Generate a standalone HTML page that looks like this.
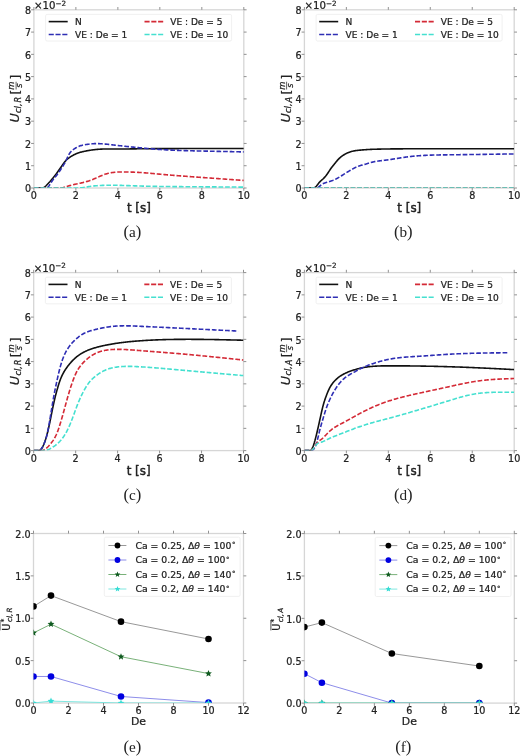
<!DOCTYPE html>
<html><head><meta charset="utf-8"><title>Figure</title>
<style>html,body{margin:0;padding:0;background:#fff;}body{width:520px;height:756px;overflow:hidden;}svg{display:block;}text{stroke:#222;stroke-width:0.24px;}text.cap{stroke:none;}text.ax{stroke-width:0.42px;}</style>
</head><body>
<svg width="520" height="756" viewBox="0 0 520 756">
<rect width="520" height="756" fill="#ffffff"/>
<defs>
<clipPath id="cpa"><rect x="33.9" y="9.8" width="209.90" height="178.20"/></clipPath>
<clipPath id="cpb"><rect x="304.4" y="9.8" width="209.80" height="178.20"/></clipPath>
<clipPath id="cpc"><rect x="33.7" y="272.6" width="209.80" height="178.00"/></clipPath>
<clipPath id="cpd"><rect x="304.4" y="272.6" width="209.80" height="178.00"/></clipPath>
<clipPath id="cpe"><rect x="33.5" y="533.5" width="210.00" height="169.50"/></clipPath>
<clipPath id="cpf"><rect x="304.4" y="533.6" width="209.90" height="169.50"/></clipPath>
</defs>
<rect x="33.9" y="9.8" width="209.90" height="178.20" fill="none" stroke="#d6d6d6" stroke-width="1.3"/>
<path d="M33.90,188.00v2.8M33.90,9.80v-2.8M75.88,188.00v2.8M75.88,9.80v-2.8M117.86,188.00v2.8M117.86,9.80v-2.8M159.84,188.00v2.8M159.84,9.80v-2.8M201.82,188.00v2.8M201.82,9.80v-2.8M243.80,188.00v2.8M243.80,9.80v-2.8M33.90,188.00h-2.8M243.80,188.00h2.8M33.90,165.72h-2.8M243.80,165.72h2.8M33.90,143.45h-2.8M243.80,143.45h2.8M33.90,121.18h-2.8M243.80,121.18h2.8M33.90,98.90h-2.8M243.80,98.90h2.8M33.90,76.62h-2.8M243.80,76.62h2.8M33.90,54.35h-2.8M243.80,54.35h2.8M33.90,32.08h-2.8M243.80,32.08h2.8M33.90,9.80h-2.8M243.80,9.80h2.8" stroke="#858585" stroke-width="0.9" fill="none"/>
<g font-family="'DejaVu Sans', 'Liberation Sans', sans-serif" font-size="9.6" fill="#222222">
<text x="33.90" y="199.30" text-anchor="middle">0</text>
<text x="75.88" y="199.30" text-anchor="middle">2</text>
<text x="117.86" y="199.30" text-anchor="middle">4</text>
<text x="159.84" y="199.30" text-anchor="middle">6</text>
<text x="201.82" y="199.30" text-anchor="middle">8</text>
<text x="243.80" y="199.30" text-anchor="middle">10</text>
<text x="31.00" y="192.20" text-anchor="end">0</text>
<text x="31.00" y="169.92" text-anchor="end">1</text>
<text x="31.00" y="147.65" text-anchor="end">2</text>
<text x="31.00" y="125.38" text-anchor="end">3</text>
<text x="31.00" y="103.10" text-anchor="end">4</text>
<text x="31.00" y="80.83" text-anchor="end">5</text>
<text x="31.00" y="58.55" text-anchor="end">6</text>
<text x="31.00" y="36.28" text-anchor="end">7</text>
<text x="31.00" y="14.00" text-anchor="end">8</text>
</g>
<g clip-path="url(#cpa)" fill="none" stroke-linejoin="round">
<polyline points="33.90,188.00 34.60,188.00 35.30,188.00 36.01,188.00 36.71,188.00 37.41,188.00 38.11,188.00 38.81,188.00 39.52,188.00 40.22,188.00 40.92,188.00 41.62,188.00 42.32,188.00 43.03,187.89 43.73,187.60 44.43,187.17 45.13,186.62 45.83,185.98 46.54,185.28 47.24,184.56 47.94,183.82 48.64,183.05 49.34,182.26 50.05,181.47 50.75,180.65 51.45,179.83 52.15,179.00 52.85,178.16 53.56,177.30 54.26,176.43 54.96,175.54 55.66,174.63 56.36,173.70 57.07,172.75 57.77,171.77 58.47,170.77 59.17,169.75 59.87,168.73 60.58,167.70 61.28,166.68 61.98,165.66 62.68,164.65 63.38,163.66 64.09,162.70 64.79,161.80 65.49,160.95 66.19,160.19 66.89,159.51 67.60,158.90 68.30,158.33 69.00,157.80 69.70,157.31 70.40,156.84 71.11,156.39 71.81,155.97 72.51,155.57 73.21,155.19 73.91,154.83 74.62,154.49 75.32,154.16 76.02,153.85 76.72,153.55 77.42,153.27 78.13,153.01 78.83,152.76 79.53,152.53 80.23,152.31 80.93,152.12 81.64,151.93 82.34,151.76 83.04,151.61 83.74,151.46 84.44,151.31 85.15,151.18 85.85,151.04 86.55,150.91 87.25,150.78 87.95,150.65 88.66,150.53 89.36,150.40 90.06,150.29 90.76,150.17 91.46,150.06 92.17,149.95 92.87,149.85 93.57,149.76 94.27,149.67 94.97,149.59 95.68,149.51 96.38,149.45 97.08,149.38 97.78,149.33 98.48,149.27 99.19,149.23 99.89,149.19 100.59,149.15 101.29,149.12 101.99,149.09 102.70,149.07 103.40,149.04 104.10,149.03 104.80,149.01 105.50,149.00 106.21,148.99 106.91,148.99 107.61,148.99 108.31,148.98 109.01,148.98 109.72,148.98 110.42,148.99 111.12,148.99 111.82,149.00 112.52,149.00 113.23,149.00 113.93,149.01 114.63,149.01 115.33,149.02 116.03,149.02 116.74,149.02 117.44,149.02 118.14,149.02 118.84,149.02 119.54,149.02 120.25,149.02 120.95,149.01 121.65,149.01 122.35,149.01 123.05,149.00 123.76,148.99 124.46,148.99 125.16,148.98 125.86,148.97 126.56,148.97 127.27,148.96 127.97,148.95 128.67,148.94 129.37,148.93 130.07,148.92 130.78,148.91 131.48,148.90 132.18,148.89 132.88,148.88 133.58,148.87 134.29,148.86 134.99,148.85 135.69,148.84 136.39,148.83 137.09,148.82 137.80,148.81 138.50,148.80 139.20,148.79 139.90,148.78 140.61,148.77 141.31,148.77 142.01,148.76 142.71,148.75 143.41,148.74 144.12,148.73 144.82,148.73 145.52,148.72 146.22,148.71 146.92,148.71 147.63,148.70 148.33,148.69 149.03,148.69 149.73,148.68 150.43,148.68 151.14,148.67 151.84,148.67 152.54,148.66 153.24,148.66 153.94,148.65 154.65,148.65 155.35,148.64 156.05,148.64 156.75,148.63 157.45,148.63 158.16,148.63 158.86,148.62 159.56,148.62 160.26,148.62 160.96,148.61 161.67,148.61 162.37,148.61 163.07,148.61 163.77,148.60 164.47,148.60 165.18,148.60 165.88,148.60 166.58,148.60 167.28,148.59 167.98,148.59 168.69,148.59 169.39,148.59 170.09,148.59 170.79,148.59 171.49,148.58 172.20,148.58 172.90,148.58 173.60,148.58 174.30,148.58 175.00,148.58 175.71,148.58 176.41,148.58 177.11,148.58 177.81,148.58 178.51,148.58 179.22,148.57 179.92,148.57 180.62,148.57 181.32,148.57 182.02,148.57 182.73,148.57 183.43,148.57 184.13,148.57 184.83,148.57 185.53,148.57 186.24,148.57 186.94,148.57 187.64,148.57 188.34,148.57 189.04,148.57 189.75,148.57 190.45,148.57 191.15,148.57 191.85,148.57 192.55,148.57 193.26,148.57 193.96,148.57 194.66,148.56 195.36,148.56 196.06,148.56 196.77,148.56 197.47,148.56 198.17,148.56 198.87,148.56 199.57,148.56 200.28,148.56 200.98,148.56 201.68,148.56 202.38,148.56 203.08,148.56 203.79,148.56 204.49,148.56 205.19,148.56 205.89,148.56 206.59,148.56 207.30,148.56 208.00,148.56 208.70,148.56 209.40,148.56 210.10,148.56 210.81,148.56 211.51,148.56 212.21,148.56 212.91,148.56 213.61,148.56 214.32,148.56 215.02,148.56 215.72,148.56 216.42,148.56 217.12,148.56 217.83,148.56 218.53,148.56 219.23,148.56 219.93,148.56 220.63,148.56 221.34,148.56 222.04,148.56 222.74,148.56 223.44,148.57 224.14,148.57 224.85,148.57 225.55,148.57 226.25,148.57 226.95,148.57 227.65,148.57 228.36,148.57 229.06,148.57 229.76,148.57 230.46,148.57 231.16,148.57 231.87,148.57 232.57,148.57 233.27,148.57 233.97,148.57 234.67,148.57 235.38,148.57 236.08,148.57 236.78,148.57 237.48,148.57 238.18,148.57 238.89,148.57 239.59,148.57 240.29,148.57 240.99,148.57 241.69,148.57 242.40,148.57 243.10,148.57 243.80,148.57" stroke="#111111" stroke-width="1.6"/>
<polyline points="33.90,188.00 34.60,188.00 35.30,188.00 36.01,188.00 36.71,188.00 37.41,188.00 38.11,188.00 38.81,188.00 39.52,188.00 40.22,188.00 40.92,188.00 41.62,188.00 42.32,188.00 43.03,188.00 43.73,188.00 44.43,188.00 45.13,188.00 45.83,188.00 46.54,188.00 47.24,187.78 47.94,187.23 48.64,186.41 49.34,185.41 50.05,184.29 50.75,183.13 51.45,182.01 52.15,180.97 52.85,180.00 53.56,179.08 54.26,178.21 54.96,177.36 55.66,176.51 56.36,175.65 57.07,174.76 57.77,173.83 58.47,172.86 59.17,171.85 59.87,170.81 60.58,169.75 61.28,168.67 61.98,167.57 62.68,166.46 63.38,165.34 64.09,164.19 64.79,162.98 65.49,161.67 66.19,160.24 66.89,158.71 67.60,157.17 68.30,155.71 69.00,154.41 69.70,153.28 70.40,152.32 71.11,151.49 71.81,150.77 72.51,150.15 73.21,149.61 73.91,149.12 74.62,148.66 75.32,148.23 76.02,147.81 76.72,147.42 77.42,147.05 78.13,146.71 78.83,146.39 79.53,146.10 80.23,145.85 80.93,145.62 81.64,145.41 82.34,145.24 83.04,145.08 83.74,144.94 84.44,144.81 85.15,144.69 85.85,144.58 86.55,144.47 87.25,144.37 87.95,144.27 88.66,144.18 89.36,144.09 90.06,144.01 90.76,143.93 91.46,143.86 92.17,143.80 92.87,143.75 93.57,143.70 94.27,143.67 94.97,143.64 95.68,143.62 96.38,143.62 97.08,143.62 97.78,143.63 98.48,143.64 99.19,143.66 99.89,143.69 100.59,143.73 101.29,143.77 101.99,143.81 102.70,143.86 103.40,143.91 104.10,143.97 104.80,144.03 105.50,144.09 106.21,144.16 106.91,144.23 107.61,144.30 108.31,144.38 109.01,144.45 109.72,144.53 110.42,144.61 111.12,144.69 111.82,144.77 112.52,144.85 113.23,144.93 113.93,145.02 114.63,145.10 115.33,145.18 116.03,145.26 116.74,145.35 117.44,145.43 118.14,145.51 118.84,145.59 119.54,145.67 120.25,145.75 120.95,145.83 121.65,145.90 122.35,145.98 123.05,146.06 123.76,146.13 124.46,146.21 125.16,146.29 125.86,146.36 126.56,146.44 127.27,146.51 127.97,146.59 128.67,146.66 129.37,146.73 130.07,146.80 130.78,146.88 131.48,146.95 132.18,147.02 132.88,147.09 133.58,147.16 134.29,147.23 134.99,147.30 135.69,147.37 136.39,147.44 137.09,147.51 137.80,147.58 138.50,147.65 139.20,147.72 139.90,147.78 140.61,147.85 141.31,147.92 142.01,147.98 142.71,148.05 143.41,148.12 144.12,148.18 144.82,148.25 145.52,148.31 146.22,148.37 146.92,148.44 147.63,148.50 148.33,148.56 149.03,148.62 149.73,148.68 150.43,148.74 151.14,148.80 151.84,148.86 152.54,148.92 153.24,148.97 153.94,149.03 154.65,149.09 155.35,149.14 156.05,149.19 156.75,149.25 157.45,149.30 158.16,149.35 158.86,149.40 159.56,149.45 160.26,149.49 160.96,149.54 161.67,149.58 162.37,149.63 163.07,149.67 163.77,149.71 164.47,149.75 165.18,149.80 165.88,149.83 166.58,149.87 167.28,149.91 167.98,149.95 168.69,149.98 169.39,150.02 170.09,150.05 170.79,150.09 171.49,150.12 172.20,150.15 172.90,150.18 173.60,150.21 174.30,150.24 175.00,150.27 175.71,150.30 176.41,150.33 177.11,150.35 177.81,150.38 178.51,150.40 179.22,150.43 179.92,150.45 180.62,150.48 181.32,150.50 182.02,150.52 182.73,150.55 183.43,150.57 184.13,150.59 184.83,150.61 185.53,150.63 186.24,150.65 186.94,150.67 187.64,150.69 188.34,150.71 189.04,150.73 189.75,150.75 190.45,150.76 191.15,150.78 191.85,150.80 192.55,150.82 193.26,150.83 193.96,150.85 194.66,150.86 195.36,150.88 196.06,150.90 196.77,150.91 197.47,150.93 198.17,150.94 198.87,150.96 199.57,150.97 200.28,150.99 200.98,151.01 201.68,151.02 202.38,151.04 203.08,151.05 203.79,151.07 204.49,151.08 205.19,151.10 205.89,151.11 206.59,151.13 207.30,151.14 208.00,151.16 208.70,151.17 209.40,151.19 210.10,151.20 210.81,151.22 211.51,151.23 212.21,151.25 212.91,151.26 213.61,151.28 214.32,151.29 215.02,151.31 215.72,151.32 216.42,151.34 217.12,151.35 217.83,151.37 218.53,151.38 219.23,151.40 219.93,151.41 220.63,151.43 221.34,151.44 222.04,151.46 222.74,151.47 223.44,151.49 224.14,151.50 224.85,151.52 225.55,151.53 226.25,151.54 226.95,151.56 227.65,151.57 228.36,151.59 229.06,151.60 229.76,151.62 230.46,151.63 231.16,151.65 231.87,151.66 232.57,151.68 233.27,151.69 233.97,151.71 234.67,151.72 235.38,151.74 236.08,151.75 236.78,151.77 237.48,151.78 238.18,151.80 238.89,151.81 239.59,151.83 240.29,151.84 240.99,151.86 241.69,151.87 242.40,151.88 243.10,151.90 243.80,151.91" stroke="#2e2eb4" stroke-width="1.6" stroke-dasharray="4.7,1.9"/>
<polyline points="33.90,188.00 34.60,188.00 35.30,188.00 36.01,188.00 36.71,188.00 37.41,188.00 38.11,188.00 38.81,188.00 39.52,188.00 40.22,188.00 40.92,188.00 41.62,188.00 42.32,188.00 43.03,188.00 43.73,188.00 44.43,188.00 45.13,188.00 45.83,188.00 46.54,188.00 47.24,188.00 47.94,188.00 48.64,188.00 49.34,188.00 50.05,188.00 50.75,188.00 51.45,188.00 52.15,188.00 52.85,188.00 53.56,188.00 54.26,188.00 54.96,188.00 55.66,188.00 56.36,188.00 57.07,188.00 57.77,188.00 58.47,188.00 59.17,188.00 59.87,188.00 60.58,187.99 61.28,187.92 61.98,187.81 62.68,187.66 63.38,187.48 64.09,187.28 64.79,187.07 65.49,186.85 66.19,186.64 66.89,186.43 67.60,186.22 68.30,186.02 69.00,185.82 69.70,185.63 70.40,185.44 71.11,185.25 71.81,185.07 72.51,184.89 73.21,184.72 73.91,184.55 74.62,184.39 75.32,184.23 76.02,184.07 76.72,183.92 77.42,183.77 78.13,183.62 78.83,183.47 79.53,183.31 80.23,183.16 80.93,183.01 81.64,182.85 82.34,182.69 83.04,182.52 83.74,182.35 84.44,182.17 85.15,181.99 85.85,181.79 86.55,181.59 87.25,181.38 87.95,181.16 88.66,180.93 89.36,180.70 90.06,180.45 90.76,180.20 91.46,179.94 92.17,179.67 92.87,179.39 93.57,179.11 94.27,178.81 94.97,178.51 95.68,178.20 96.38,177.89 97.08,177.58 97.78,177.26 98.48,176.95 99.19,176.63 99.89,176.32 100.59,176.01 101.29,175.71 101.99,175.42 102.70,175.13 103.40,174.86 104.10,174.60 104.80,174.35 105.50,174.11 106.21,173.89 106.91,173.69 107.61,173.50 108.31,173.32 109.01,173.16 109.72,173.01 110.42,172.88 111.12,172.75 111.82,172.64 112.52,172.54 113.23,172.44 113.93,172.36 114.63,172.29 115.33,172.22 116.03,172.16 116.74,172.11 117.44,172.07 118.14,172.03 118.84,172.01 119.54,171.98 120.25,171.96 120.95,171.95 121.65,171.94 122.35,171.93 123.05,171.93 123.76,171.94 124.46,171.94 125.16,171.95 125.86,171.96 126.56,171.97 127.27,171.98 127.97,171.99 128.67,172.01 129.37,172.02 130.07,172.04 130.78,172.06 131.48,172.08 132.18,172.10 132.88,172.13 133.58,172.15 134.29,172.18 134.99,172.21 135.69,172.24 136.39,172.28 137.09,172.31 137.80,172.35 138.50,172.39 139.20,172.43 139.90,172.47 140.61,172.52 141.31,172.56 142.01,172.61 142.71,172.67 143.41,172.72 144.12,172.77 144.82,172.83 145.52,172.88 146.22,172.94 146.92,173.00 147.63,173.06 148.33,173.12 149.03,173.19 149.73,173.25 150.43,173.31 151.14,173.38 151.84,173.44 152.54,173.51 153.24,173.57 153.94,173.64 154.65,173.70 155.35,173.77 156.05,173.84 156.75,173.90 157.45,173.97 158.16,174.03 158.86,174.10 159.56,174.16 160.26,174.23 160.96,174.29 161.67,174.35 162.37,174.42 163.07,174.48 163.77,174.54 164.47,174.60 165.18,174.66 165.88,174.72 166.58,174.78 167.28,174.84 167.98,174.90 168.69,174.95 169.39,175.01 170.09,175.07 170.79,175.12 171.49,175.18 172.20,175.24 172.90,175.29 173.60,175.35 174.30,175.40 175.00,175.46 175.71,175.51 176.41,175.57 177.11,175.62 177.81,175.68 178.51,175.73 179.22,175.79 179.92,175.84 180.62,175.89 181.32,175.95 182.02,176.00 182.73,176.05 183.43,176.11 184.13,176.16 184.83,176.21 185.53,176.27 186.24,176.32 186.94,176.37 187.64,176.43 188.34,176.48 189.04,176.53 189.75,176.58 190.45,176.64 191.15,176.69 191.85,176.74 192.55,176.79 193.26,176.84 193.96,176.90 194.66,176.95 195.36,177.00 196.06,177.05 196.77,177.10 197.47,177.15 198.17,177.21 198.87,177.26 199.57,177.31 200.28,177.36 200.98,177.41 201.68,177.46 202.38,177.51 203.08,177.56 203.79,177.61 204.49,177.67 205.19,177.72 205.89,177.77 206.59,177.82 207.30,177.87 208.00,177.92 208.70,177.97 209.40,178.02 210.10,178.07 210.81,178.12 211.51,178.17 212.21,178.22 212.91,178.27 213.61,178.32 214.32,178.37 215.02,178.42 215.72,178.47 216.42,178.52 217.12,178.57 217.83,178.62 218.53,178.67 219.23,178.71 219.93,178.76 220.63,178.81 221.34,178.86 222.04,178.91 222.74,178.96 223.44,179.01 224.14,179.06 224.85,179.11 225.55,179.16 226.25,179.21 226.95,179.26 227.65,179.31 228.36,179.35 229.06,179.40 229.76,179.45 230.46,179.50 231.16,179.55 231.87,179.60 232.57,179.65 233.27,179.70 233.97,179.74 234.67,179.79 235.38,179.84 236.08,179.89 236.78,179.94 237.48,179.99 238.18,180.04 238.89,180.09 239.59,180.13 240.29,180.18 240.99,180.23 241.69,180.28 242.40,180.33 243.10,180.38 243.80,180.43" stroke="#d42a36" stroke-width="1.6" stroke-dasharray="4.7,1.9"/>
<polyline points="33.90,188.00 34.60,188.00 35.30,188.00 36.01,188.00 36.71,188.00 37.41,188.00 38.11,188.00 38.81,188.00 39.52,188.00 40.22,188.00 40.92,188.00 41.62,188.00 42.32,188.00 43.03,188.00 43.73,188.00 44.43,188.00 45.13,188.00 45.83,188.00 46.54,188.00 47.24,188.00 47.94,188.00 48.64,188.00 49.34,188.00 50.05,188.00 50.75,188.00 51.45,188.00 52.15,188.00 52.85,188.00 53.56,188.00 54.26,188.00 54.96,188.00 55.66,188.00 56.36,188.00 57.07,188.00 57.77,188.00 58.47,188.00 59.17,188.00 59.87,188.00 60.58,188.00 61.28,188.00 61.98,188.00 62.68,188.00 63.38,188.00 64.09,188.00 64.79,188.00 65.49,188.00 66.19,188.00 66.89,188.00 67.60,188.00 68.30,188.00 69.00,188.00 69.70,188.00 70.40,188.00 71.11,188.00 71.81,188.00 72.51,188.00 73.21,188.00 73.91,188.00 74.62,188.00 75.32,188.00 76.02,188.00 76.72,188.00 77.42,188.00 78.13,188.00 78.83,187.99 79.53,187.95 80.23,187.90 80.93,187.84 81.64,187.76 82.34,187.67 83.04,187.57 83.74,187.46 84.44,187.35 85.15,187.23 85.85,187.11 86.55,186.99 87.25,186.87 87.95,186.75 88.66,186.63 89.36,186.53 90.06,186.42 90.76,186.33 91.46,186.24 92.17,186.15 92.87,186.07 93.57,185.99 94.27,185.92 94.97,185.85 95.68,185.79 96.38,185.73 97.08,185.68 97.78,185.63 98.48,185.58 99.19,185.54 99.89,185.50 100.59,185.46 101.29,185.43 101.99,185.39 102.70,185.37 103.40,185.34 104.10,185.32 104.80,185.30 105.50,185.28 106.21,185.27 106.91,185.26 107.61,185.25 108.31,185.24 109.01,185.24 109.72,185.24 110.42,185.23 111.12,185.24 111.82,185.24 112.52,185.24 113.23,185.25 113.93,185.26 114.63,185.27 115.33,185.28 116.03,185.29 116.74,185.30 117.44,185.32 118.14,185.33 118.84,185.35 119.54,185.37 120.25,185.38 120.95,185.40 121.65,185.42 122.35,185.44 123.05,185.46 123.76,185.49 124.46,185.51 125.16,185.53 125.86,185.55 126.56,185.58 127.27,185.60 127.97,185.62 128.67,185.65 129.37,185.67 130.07,185.70 130.78,185.72 131.48,185.75 132.18,185.77 132.88,185.80 133.58,185.82 134.29,185.84 134.99,185.87 135.69,185.89 136.39,185.92 137.09,185.94 137.80,185.96 138.50,185.98 139.20,186.01 139.90,186.03 140.61,186.05 141.31,186.07 142.01,186.09 142.71,186.11 143.41,186.13 144.12,186.14 144.82,186.16 145.52,186.18 146.22,186.20 146.92,186.21 147.63,186.23 148.33,186.25 149.03,186.26 149.73,186.28 150.43,186.29 151.14,186.30 151.84,186.32 152.54,186.33 153.24,186.34 153.94,186.36 154.65,186.37 155.35,186.38 156.05,186.39 156.75,186.40 157.45,186.42 158.16,186.43 158.86,186.44 159.56,186.45 160.26,186.46 160.96,186.47 161.67,186.48 162.37,186.49 163.07,186.49 163.77,186.50 164.47,186.51 165.18,186.52 165.88,186.53 166.58,186.54 167.28,186.54 167.98,186.55 168.69,186.56 169.39,186.56 170.09,186.57 170.79,186.58 171.49,186.58 172.20,186.59 172.90,186.60 173.60,186.60 174.30,186.61 175.00,186.62 175.71,186.62 176.41,186.63 177.11,186.63 177.81,186.64 178.51,186.65 179.22,186.65 179.92,186.66 180.62,186.66 181.32,186.67 182.02,186.67 182.73,186.68 183.43,186.68 184.13,186.69 184.83,186.69 185.53,186.70 186.24,186.71 186.94,186.71 187.64,186.72 188.34,186.72 189.04,186.73 189.75,186.73 190.45,186.74 191.15,186.74 191.85,186.75 192.55,186.75 193.26,186.76 193.96,186.76 194.66,186.77 195.36,186.77 196.06,186.78 196.77,186.78 197.47,186.79 198.17,186.80 198.87,186.80 199.57,186.81 200.28,186.81 200.98,186.82 201.68,186.82 202.38,186.83 203.08,186.83 203.79,186.84 204.49,186.84 205.19,186.85 205.89,186.85 206.59,186.86 207.30,186.86 208.00,186.87 208.70,186.87 209.40,186.88 210.10,186.88 210.81,186.89 211.51,186.89 212.21,186.90 212.91,186.90 213.61,186.91 214.32,186.91 215.02,186.91 215.72,186.92 216.42,186.92 217.12,186.93 217.83,186.93 218.53,186.94 219.23,186.94 219.93,186.95 220.63,186.95 221.34,186.96 222.04,186.96 222.74,186.97 223.44,186.97 224.14,186.98 224.85,186.98 225.55,186.99 226.25,186.99 226.95,187.00 227.65,187.00 228.36,187.01 229.06,187.01 229.76,187.02 230.46,187.02 231.16,187.02 231.87,187.03 232.57,187.03 233.27,187.04 233.97,187.04 234.67,187.05 235.38,187.05 236.08,187.06 236.78,187.06 237.48,187.07 238.18,187.07 238.89,187.08 239.59,187.08 240.29,187.09 240.99,187.09 241.69,187.09 242.40,187.10 243.10,187.10 243.80,187.11" stroke="#45e0d0" stroke-width="1.6" stroke-dasharray="4.7,1.9"/>
</g>
<text x="34.00" y="9.40" font-family="'DejaVu Sans', 'Liberation Sans', sans-serif" font-size="10.2" fill="#222222">×10<tspan font-size="7.2" dy="-3.9">−2</tspan></text>
<rect x="45.60" y="14.40" width="186" height="26.6" rx="1.5" fill="#ffffff" fill-opacity="0.8" stroke="#ececec" stroke-width="0.8"/>
<line x1="48.70" y1="21.60" x2="67.70" y2="21.60" stroke="#111111" stroke-width="1.6"/>
<text x="75.00" y="25.20" font-family="'DejaVu Sans', 'Liberation Sans', sans-serif" font-size="9.05" fill="#222222">N</text>
<line x1="48.70" y1="34.50" x2="67.70" y2="34.50" stroke="#2e2eb4" stroke-width="1.6" stroke-dasharray="5.1,1.7"/>
<text x="75.00" y="38.10" font-family="'DejaVu Sans', 'Liberation Sans', sans-serif" font-size="9.05" fill="#222222">VE : De = 1</text>
<line x1="144.50" y1="21.60" x2="163.50" y2="21.60" stroke="#d42a36" stroke-width="1.6" stroke-dasharray="5.1,1.7"/>
<text x="170.20" y="25.20" font-family="'DejaVu Sans', 'Liberation Sans', sans-serif" font-size="9.05" fill="#222222">VE : De = 5</text>
<line x1="144.50" y1="34.50" x2="163.50" y2="34.50" stroke="#45e0d0" stroke-width="1.6" stroke-dasharray="5.1,1.7"/>
<text x="170.20" y="38.10" font-family="'DejaVu Sans', 'Liberation Sans', sans-serif" font-size="9.05" fill="#222222">VE : De = 10</text>
<text class="ax" x="138.85" y="212.00" text-anchor="middle" font-family="'DejaVu Sans', 'Liberation Sans', sans-serif" font-size="11.9" fill="#222222">t [s]</text>
<g transform="translate(19.30,98.90) rotate(-90)" font-family="'DejaVu Sans', 'Liberation Sans', sans-serif" fill="#222222"><text x="-23.6" y="0" font-size="12.8" font-style="italic">U</text><text x="-14.0" y="1.5" font-size="8.2" font-style="italic">cl,</text><text x="-3.6" y="1.7" font-size="8.2" font-style="italic">R</text><text x="4.4" y="0.9" font-size="12.2">[</text><text x="13.3" y="-5.3" font-size="8.4" font-style="italic" text-anchor="middle">m</text><line x1="9.4" y1="-3.2" x2="17.2" y2="-3.2" stroke="#222222" stroke-width="0.7"/><text x="13.4" y="2.7" font-size="8.2" font-style="italic" text-anchor="middle">s</text><text x="19.4" y="0.9" font-size="12.2">]</text></g>
<rect x="304.4" y="9.8" width="209.80" height="178.20" fill="none" stroke="#d6d6d6" stroke-width="1.3"/>
<path d="M304.40,188.00v2.8M304.40,9.80v-2.8M346.36,188.00v2.8M346.36,9.80v-2.8M388.32,188.00v2.8M388.32,9.80v-2.8M430.28,188.00v2.8M430.28,9.80v-2.8M472.24,188.00v2.8M472.24,9.80v-2.8M514.20,188.00v2.8M514.20,9.80v-2.8M304.40,188.00h-2.8M514.20,188.00h2.8M304.40,165.72h-2.8M514.20,165.72h2.8M304.40,143.45h-2.8M514.20,143.45h2.8M304.40,121.18h-2.8M514.20,121.18h2.8M304.40,98.90h-2.8M514.20,98.90h2.8M304.40,76.62h-2.8M514.20,76.62h2.8M304.40,54.35h-2.8M514.20,54.35h2.8M304.40,32.08h-2.8M514.20,32.08h2.8M304.40,9.80h-2.8M514.20,9.80h2.8" stroke="#858585" stroke-width="0.9" fill="none"/>
<g font-family="'DejaVu Sans', 'Liberation Sans', sans-serif" font-size="9.6" fill="#222222">
<text x="304.40" y="199.30" text-anchor="middle">0</text>
<text x="346.36" y="199.30" text-anchor="middle">2</text>
<text x="388.32" y="199.30" text-anchor="middle">4</text>
<text x="430.28" y="199.30" text-anchor="middle">6</text>
<text x="472.24" y="199.30" text-anchor="middle">8</text>
<text x="514.20" y="199.30" text-anchor="middle">10</text>
<text x="301.50" y="192.20" text-anchor="end">0</text>
<text x="301.50" y="169.92" text-anchor="end">1</text>
<text x="301.50" y="147.65" text-anchor="end">2</text>
<text x="301.50" y="125.38" text-anchor="end">3</text>
<text x="301.50" y="103.10" text-anchor="end">4</text>
<text x="301.50" y="80.83" text-anchor="end">5</text>
<text x="301.50" y="58.55" text-anchor="end">6</text>
<text x="301.50" y="36.28" text-anchor="end">7</text>
<text x="301.50" y="14.00" text-anchor="end">8</text>
</g>
<g clip-path="url(#cpb)" fill="none" stroke-linejoin="round">
<polyline points="304.40,188.00 305.10,188.00 305.80,188.00 306.51,188.00 307.21,188.00 307.91,188.00 308.61,188.00 309.31,188.00 310.01,188.00 310.72,188.00 311.42,188.00 312.12,188.00 312.82,188.00 313.52,188.00 314.22,187.89 314.93,187.53 315.63,186.94 316.33,186.20 317.03,185.34 317.73,184.42 318.43,183.50 319.14,182.62 319.84,181.83 320.54,181.13 321.24,180.48 321.94,179.86 322.64,179.24 323.35,178.58 324.05,177.88 324.75,177.11 325.45,176.29 326.15,175.41 326.85,174.47 327.56,173.48 328.26,172.45 328.96,171.40 329.66,170.34 330.36,169.30 331.06,168.30 331.77,167.35 332.47,166.43 333.17,165.54 333.87,164.67 334.57,163.81 335.27,162.94 335.98,162.07 336.68,161.21 337.38,160.38 338.08,159.59 338.78,158.85 339.48,158.17 340.19,157.54 340.89,156.96 341.59,156.41 342.29,155.90 342.99,155.43 343.69,154.97 344.40,154.54 345.10,154.14 345.80,153.76 346.50,153.40 347.20,153.07 347.90,152.76 348.61,152.47 349.31,152.20 350.01,151.96 350.71,151.73 351.41,151.53 352.11,151.35 352.82,151.18 353.52,151.03 354.22,150.89 354.92,150.77 355.62,150.66 356.32,150.56 357.03,150.46 357.73,150.38 358.43,150.29 359.13,150.22 359.83,150.14 360.53,150.08 361.24,150.01 361.94,149.95 362.64,149.89 363.34,149.84 364.04,149.78 364.74,149.73 365.45,149.69 366.15,149.64 366.85,149.60 367.55,149.56 368.25,149.52 368.95,149.48 369.66,149.45 370.36,149.41 371.06,149.38 371.76,149.35 372.46,149.32 373.16,149.30 373.87,149.27 374.57,149.25 375.27,149.22 375.97,149.20 376.67,149.18 377.37,149.16 378.08,149.14 378.78,149.12 379.48,149.11 380.18,149.09 380.88,149.08 381.58,149.06 382.29,149.05 382.99,149.04 383.69,149.02 384.39,149.01 385.09,149.00 385.79,148.99 386.50,148.98 387.20,148.97 387.90,148.96 388.60,148.95 389.30,148.94 390.00,148.93 390.71,148.92 391.41,148.91 392.11,148.91 392.81,148.90 393.51,148.89 394.21,148.89 394.92,148.88 395.62,148.87 396.32,148.87 397.02,148.86 397.72,148.86 398.42,148.85 399.13,148.85 399.83,148.84 400.53,148.84 401.23,148.83 401.93,148.83 402.63,148.83 403.34,148.82 404.04,148.82 404.74,148.82 405.44,148.81 406.14,148.81 406.84,148.81 407.55,148.80 408.25,148.80 408.95,148.80 409.65,148.79 410.35,148.79 411.05,148.79 411.76,148.79 412.46,148.78 413.16,148.78 413.86,148.78 414.56,148.78 415.26,148.77 415.97,148.77 416.67,148.77 417.37,148.77 418.07,148.77 418.77,148.76 419.47,148.76 420.18,148.76 420.88,148.76 421.58,148.76 422.28,148.75 422.98,148.75 423.68,148.75 424.39,148.75 425.09,148.75 425.79,148.75 426.49,148.75 427.19,148.74 427.89,148.74 428.60,148.74 429.30,148.74 430.00,148.74 430.70,148.74 431.40,148.74 432.10,148.73 432.81,148.73 433.51,148.73 434.21,148.73 434.91,148.73 435.61,148.73 436.31,148.73 437.02,148.73 437.72,148.73 438.42,148.73 439.12,148.73 439.82,148.72 440.52,148.72 441.23,148.72 441.93,148.72 442.63,148.72 443.33,148.72 444.03,148.72 444.73,148.72 445.44,148.72 446.14,148.72 446.84,148.72 447.54,148.72 448.24,148.72 448.94,148.72 449.65,148.72 450.35,148.72 451.05,148.72 451.75,148.72 452.45,148.72 453.15,148.72 453.86,148.72 454.56,148.72 455.26,148.72 455.96,148.72 456.66,148.72 457.36,148.72 458.07,148.72 458.77,148.72 459.47,148.72 460.17,148.72 460.87,148.72 461.57,148.72 462.28,148.72 462.98,148.72 463.68,148.72 464.38,148.72 465.08,148.72 465.78,148.72 466.49,148.72 467.19,148.72 467.89,148.72 468.59,148.72 469.29,148.73 469.99,148.73 470.70,148.73 471.40,148.73 472.10,148.73 472.80,148.73 473.50,148.73 474.20,148.73 474.91,148.73 475.61,148.73 476.31,148.73 477.01,148.73 477.71,148.73 478.41,148.74 479.12,148.74 479.82,148.74 480.52,148.74 481.22,148.74 481.92,148.74 482.62,148.74 483.33,148.74 484.03,148.74 484.73,148.74 485.43,148.74 486.13,148.75 486.83,148.75 487.54,148.75 488.24,148.75 488.94,148.75 489.64,148.75 490.34,148.75 491.04,148.75 491.75,148.75 492.45,148.76 493.15,148.76 493.85,148.76 494.55,148.76 495.25,148.76 495.96,148.76 496.66,148.76 497.36,148.76 498.06,148.77 498.76,148.77 499.46,148.77 500.17,148.77 500.87,148.77 501.57,148.77 502.27,148.77 502.97,148.77 503.67,148.78 504.38,148.78 505.08,148.78 505.78,148.78 506.48,148.78 507.18,148.78 507.88,148.78 508.59,148.79 509.29,148.79 509.99,148.79 510.69,148.79 511.39,148.79 512.09,148.79 512.80,148.79 513.50,148.79 514.20,148.80" stroke="#111111" stroke-width="1.6"/>
<polyline points="304.40,188.00 305.10,188.00 305.80,188.00 306.51,188.00 307.21,188.00 307.91,188.00 308.61,188.00 309.31,188.00 310.01,188.00 310.72,188.00 311.42,188.00 312.12,188.00 312.82,188.00 313.52,188.00 314.22,188.00 314.93,188.00 315.63,188.00 316.33,188.00 317.03,187.95 317.73,187.68 318.43,187.25 319.14,186.69 319.84,186.07 320.54,185.43 321.24,184.84 321.94,184.32 322.64,183.88 323.35,183.51 324.05,183.19 324.75,182.92 325.45,182.68 326.15,182.47 326.85,182.27 327.56,182.07 328.26,181.87 328.96,181.66 329.66,181.45 330.36,181.23 331.06,181.00 331.77,180.76 332.47,180.51 333.17,180.24 333.87,179.95 334.57,179.65 335.27,179.32 335.98,178.98 336.68,178.61 337.38,178.23 338.08,177.83 338.78,177.43 339.48,177.01 340.19,176.58 340.89,176.15 341.59,175.71 342.29,175.27 342.99,174.82 343.69,174.38 344.40,173.94 345.10,173.50 345.80,173.06 346.50,172.62 347.20,172.19 347.90,171.76 348.61,171.33 349.31,170.90 350.01,170.48 350.71,170.06 351.41,169.65 352.11,169.24 352.82,168.85 353.52,168.46 354.22,168.09 354.92,167.73 355.62,167.38 356.32,167.06 357.03,166.75 357.73,166.46 358.43,166.19 359.13,165.95 359.83,165.72 360.53,165.50 361.24,165.30 361.94,165.11 362.64,164.92 363.34,164.73 364.04,164.55 364.74,164.36 365.45,164.17 366.15,163.97 366.85,163.76 367.55,163.55 368.25,163.34 368.95,163.12 369.66,162.91 370.36,162.70 371.06,162.50 371.76,162.31 372.46,162.12 373.16,161.95 373.87,161.79 374.57,161.64 375.27,161.51 375.97,161.39 376.67,161.27 377.37,161.17 378.08,161.07 378.78,160.97 379.48,160.89 380.18,160.80 380.88,160.72 381.58,160.64 382.29,160.57 382.99,160.49 383.69,160.41 384.39,160.32 385.09,160.24 385.79,160.15 386.50,160.05 387.20,159.96 387.90,159.86 388.60,159.76 389.30,159.66 390.00,159.56 390.71,159.45 391.41,159.34 392.11,159.24 392.81,159.13 393.51,159.02 394.21,158.91 394.92,158.79 395.62,158.68 396.32,158.57 397.02,158.46 397.72,158.34 398.42,158.23 399.13,158.12 399.83,158.01 400.53,157.90 401.23,157.79 401.93,157.68 402.63,157.57 403.34,157.47 404.04,157.37 404.74,157.26 405.44,157.16 406.14,157.07 406.84,156.97 407.55,156.88 408.25,156.79 408.95,156.70 409.65,156.62 410.35,156.54 411.05,156.46 411.76,156.38 412.46,156.31 413.16,156.24 413.86,156.17 414.56,156.10 415.26,156.04 415.97,155.98 416.67,155.92 417.37,155.86 418.07,155.81 418.77,155.75 419.47,155.70 420.18,155.65 420.88,155.61 421.58,155.56 422.28,155.52 422.98,155.48 423.68,155.44 424.39,155.40 425.09,155.37 425.79,155.33 426.49,155.30 427.19,155.27 427.89,155.24 428.60,155.21 429.30,155.19 430.00,155.16 430.70,155.14 431.40,155.12 432.10,155.10 432.81,155.07 433.51,155.06 434.21,155.04 434.91,155.02 435.61,155.00 436.31,154.99 437.02,154.97 437.72,154.96 438.42,154.95 439.12,154.94 439.82,154.92 440.52,154.91 441.23,154.90 441.93,154.89 442.63,154.88 443.33,154.87 444.03,154.86 444.73,154.86 445.44,154.85 446.14,154.84 446.84,154.83 447.54,154.82 448.24,154.82 448.94,154.81 449.65,154.80 450.35,154.79 451.05,154.78 451.75,154.78 452.45,154.77 453.15,154.76 453.86,154.75 454.56,154.74 455.26,154.73 455.96,154.73 456.66,154.72 457.36,154.71 458.07,154.70 458.77,154.69 459.47,154.68 460.17,154.67 460.87,154.67 461.57,154.66 462.28,154.65 462.98,154.64 463.68,154.63 464.38,154.62 465.08,154.61 465.78,154.60 466.49,154.59 467.19,154.59 467.89,154.58 468.59,154.57 469.29,154.56 469.99,154.55 470.70,154.54 471.40,154.53 472.10,154.52 472.80,154.51 473.50,154.50 474.20,154.49 474.91,154.48 475.61,154.47 476.31,154.46 477.01,154.45 477.71,154.44 478.41,154.44 479.12,154.43 479.82,154.42 480.52,154.41 481.22,154.40 481.92,154.39 482.62,154.38 483.33,154.37 484.03,154.36 484.73,154.35 485.43,154.34 486.13,154.33 486.83,154.32 487.54,154.31 488.24,154.30 488.94,154.29 489.64,154.28 490.34,154.27 491.04,154.26 491.75,154.25 492.45,154.24 493.15,154.23 493.85,154.22 494.55,154.21 495.25,154.20 495.96,154.19 496.66,154.18 497.36,154.17 498.06,154.16 498.76,154.15 499.46,154.14 500.17,154.13 500.87,154.12 501.57,154.11 502.27,154.09 502.97,154.08 503.67,154.07 504.38,154.06 505.08,154.05 505.78,154.04 506.48,154.03 507.18,154.02 507.88,154.01 508.59,154.00 509.29,153.99 509.99,153.98 510.69,153.97 511.39,153.96 512.09,153.95 512.80,153.94 513.50,153.93 514.20,153.92" stroke="#2e2eb4" stroke-width="1.6" stroke-dasharray="4.7,1.9"/>
<polyline points="304.40,188.00 305.10,188.00 305.80,188.00 306.51,188.00 307.21,188.00 307.91,188.00 308.61,188.00 309.31,188.00 310.01,188.00 310.72,188.00 311.42,188.00 312.12,188.00 312.82,188.00 313.52,188.00 314.22,188.00 314.93,188.00 315.63,188.00 316.33,188.00 317.03,188.00 317.73,188.00 318.43,188.00 319.14,188.00 319.84,188.00 320.54,188.00 321.24,188.00 321.94,188.00 322.64,188.00 323.35,188.00 324.05,188.00 324.75,188.00 325.45,188.00 326.15,188.00 326.85,188.00 327.56,188.00 328.26,188.00 328.96,188.00 329.66,188.00 330.36,188.00 331.06,188.00 331.77,188.00 332.47,188.00 333.17,188.00 333.87,188.00 334.57,188.00 335.27,188.00 335.98,188.00 336.68,188.00 337.38,188.00 338.08,188.00 338.78,188.00 339.48,188.00 340.19,188.00 340.89,188.00 341.59,188.00 342.29,188.00 342.99,188.00 343.69,188.00 344.40,188.00 345.10,188.00 345.80,188.00 346.50,188.00 347.20,188.00 347.90,188.00 348.61,188.00 349.31,188.00 350.01,188.00 350.71,188.00 351.41,188.00 352.11,188.00 352.82,188.00 353.52,188.00 354.22,188.00 354.92,188.00 355.62,188.00 356.32,188.00 357.03,188.00 357.73,188.00 358.43,188.00 359.13,188.00 359.83,188.00 360.53,188.00 361.24,188.00 361.94,188.00 362.64,188.00 363.34,188.00 364.04,188.00 364.74,188.00 365.45,188.00 366.15,188.00 366.85,188.00 367.55,188.00 368.25,188.00 368.95,188.00 369.66,188.00 370.36,188.00 371.06,188.00 371.76,188.00 372.46,188.00 373.16,188.00 373.87,188.00 374.57,188.00 375.27,188.00 375.97,188.00 376.67,188.00 377.37,188.00 378.08,188.00 378.78,188.00 379.48,188.00 380.18,188.00 380.88,188.00 381.58,188.00 382.29,188.00 382.99,188.00 383.69,188.00 384.39,188.00 385.09,188.00 385.79,188.00 386.50,188.00 387.20,188.00 387.90,188.00 388.60,188.00 389.30,188.00 390.00,188.00 390.71,188.00 391.41,188.00 392.11,188.00 392.81,188.00 393.51,188.00 394.21,188.00 394.92,188.00 395.62,188.00 396.32,188.00 397.02,188.00 397.72,188.00 398.42,188.00 399.13,188.00 399.83,188.00 400.53,188.00 401.23,188.00 401.93,188.00 402.63,188.00 403.34,188.00 404.04,188.00 404.74,188.00 405.44,188.00 406.14,188.00 406.84,188.00 407.55,188.00 408.25,188.00 408.95,188.00 409.65,188.00 410.35,188.00 411.05,188.00 411.76,188.00 412.46,188.00 413.16,188.00 413.86,188.00 414.56,188.00 415.26,188.00 415.97,188.00 416.67,188.00 417.37,188.00 418.07,188.00 418.77,188.00 419.47,188.00 420.18,188.00 420.88,188.00 421.58,188.00 422.28,188.00 422.98,188.00 423.68,188.00 424.39,188.00 425.09,188.00 425.79,188.00 426.49,188.00 427.19,188.00 427.89,188.00 428.60,188.00 429.30,188.00 430.00,188.00 430.70,188.00 431.40,188.00 432.10,188.00 432.81,188.00 433.51,188.00 434.21,188.00 434.91,188.00 435.61,188.00 436.31,188.00 437.02,188.00 437.72,188.00 438.42,188.00 439.12,188.00 439.82,188.00 440.52,188.00 441.23,188.00 441.93,188.00 442.63,188.00 443.33,188.00 444.03,188.00 444.73,188.00 445.44,188.00 446.14,188.00 446.84,188.00 447.54,188.00 448.24,188.00 448.94,188.00 449.65,188.00 450.35,188.00 451.05,188.00 451.75,188.00 452.45,188.00 453.15,188.00 453.86,188.00 454.56,188.00 455.26,188.00 455.96,188.00 456.66,188.00 457.36,188.00 458.07,188.00 458.77,188.00 459.47,188.00 460.17,188.00 460.87,188.00 461.57,188.00 462.28,188.00 462.98,188.00 463.68,188.00 464.38,188.00 465.08,188.00 465.78,188.00 466.49,188.00 467.19,188.00 467.89,188.00 468.59,188.00 469.29,188.00 469.99,188.00 470.70,188.00 471.40,188.00 472.10,188.00 472.80,188.00 473.50,188.00 474.20,188.00 474.91,188.00 475.61,188.00 476.31,188.00 477.01,188.00 477.71,188.00 478.41,188.00 479.12,188.00 479.82,188.00 480.52,188.00 481.22,188.00 481.92,188.00 482.62,188.00 483.33,188.00 484.03,188.00 484.73,188.00 485.43,188.00 486.13,188.00 486.83,188.00 487.54,188.00 488.24,188.00 488.94,188.00 489.64,188.00 490.34,188.00 491.04,188.00 491.75,188.00 492.45,188.00 493.15,188.00 493.85,188.00 494.55,188.00 495.25,188.00 495.96,188.00 496.66,188.00 497.36,188.00 498.06,188.00 498.76,188.00 499.46,188.00 500.17,188.00 500.87,188.00 501.57,188.00 502.27,188.00 502.97,188.00 503.67,188.00 504.38,188.00 505.08,188.00 505.78,188.00 506.48,188.00 507.18,188.00 507.88,188.00 508.59,188.00 509.29,188.00 509.99,188.00 510.69,188.00 511.39,188.00 512.09,188.00 512.80,188.00 513.50,188.00 514.20,188.00" stroke="#d42a36" stroke-width="1.6" stroke-dasharray="4.7,1.9"/>
<polyline points="304.40,188.00 305.10,188.00 305.80,188.00 306.51,188.00 307.21,188.00 307.91,188.00 308.61,188.00 309.31,188.00 310.01,188.00 310.72,188.00 311.42,188.00 312.12,188.00 312.82,188.00 313.52,188.00 314.22,188.00 314.93,188.00 315.63,188.00 316.33,188.00 317.03,188.00 317.73,188.00 318.43,188.00 319.14,188.00 319.84,188.00 320.54,188.00 321.24,188.00 321.94,188.00 322.64,188.00 323.35,188.00 324.05,188.00 324.75,188.00 325.45,188.00 326.15,188.00 326.85,188.00 327.56,188.00 328.26,188.00 328.96,188.00 329.66,188.00 330.36,188.00 331.06,188.00 331.77,188.00 332.47,188.00 333.17,188.00 333.87,188.00 334.57,188.00 335.27,188.00 335.98,188.00 336.68,188.00 337.38,188.00 338.08,188.00 338.78,188.00 339.48,188.00 340.19,188.00 340.89,188.00 341.59,188.00 342.29,188.00 342.99,188.00 343.69,188.00 344.40,188.00 345.10,188.00 345.80,188.00 346.50,188.00 347.20,188.00 347.90,188.00 348.61,188.00 349.31,188.00 350.01,188.00 350.71,188.00 351.41,188.00 352.11,188.00 352.82,188.00 353.52,188.00 354.22,188.00 354.92,188.00 355.62,188.00 356.32,188.00 357.03,188.00 357.73,188.00 358.43,188.00 359.13,188.00 359.83,188.00 360.53,188.00 361.24,188.00 361.94,188.00 362.64,188.00 363.34,188.00 364.04,188.00 364.74,188.00 365.45,188.00 366.15,188.00 366.85,188.00 367.55,188.00 368.25,188.00 368.95,188.00 369.66,188.00 370.36,188.00 371.06,188.00 371.76,188.00 372.46,188.00 373.16,188.00 373.87,188.00 374.57,188.00 375.27,188.00 375.97,188.00 376.67,188.00 377.37,188.00 378.08,188.00 378.78,188.00 379.48,188.00 380.18,188.00 380.88,188.00 381.58,188.00 382.29,188.00 382.99,188.00 383.69,188.00 384.39,188.00 385.09,188.00 385.79,188.00 386.50,188.00 387.20,188.00 387.90,188.00 388.60,188.00 389.30,188.00 390.00,188.00 390.71,188.00 391.41,188.00 392.11,188.00 392.81,188.00 393.51,188.00 394.21,188.00 394.92,188.00 395.62,188.00 396.32,188.00 397.02,188.00 397.72,188.00 398.42,188.00 399.13,188.00 399.83,188.00 400.53,188.00 401.23,188.00 401.93,188.00 402.63,188.00 403.34,188.00 404.04,188.00 404.74,188.00 405.44,188.00 406.14,188.00 406.84,188.00 407.55,188.00 408.25,188.00 408.95,188.00 409.65,188.00 410.35,188.00 411.05,188.00 411.76,188.00 412.46,188.00 413.16,188.00 413.86,188.00 414.56,188.00 415.26,188.00 415.97,188.00 416.67,188.00 417.37,188.00 418.07,188.00 418.77,188.00 419.47,188.00 420.18,188.00 420.88,188.00 421.58,188.00 422.28,188.00 422.98,188.00 423.68,188.00 424.39,188.00 425.09,188.00 425.79,188.00 426.49,188.00 427.19,188.00 427.89,188.00 428.60,188.00 429.30,188.00 430.00,188.00 430.70,188.00 431.40,188.00 432.10,188.00 432.81,188.00 433.51,188.00 434.21,188.00 434.91,188.00 435.61,188.00 436.31,188.00 437.02,188.00 437.72,188.00 438.42,188.00 439.12,188.00 439.82,188.00 440.52,188.00 441.23,188.00 441.93,188.00 442.63,188.00 443.33,188.00 444.03,188.00 444.73,188.00 445.44,188.00 446.14,188.00 446.84,188.00 447.54,188.00 448.24,188.00 448.94,188.00 449.65,188.00 450.35,188.00 451.05,188.00 451.75,188.00 452.45,188.00 453.15,188.00 453.86,188.00 454.56,188.00 455.26,188.00 455.96,188.00 456.66,188.00 457.36,188.00 458.07,188.00 458.77,188.00 459.47,188.00 460.17,188.00 460.87,188.00 461.57,188.00 462.28,188.00 462.98,188.00 463.68,188.00 464.38,188.00 465.08,188.00 465.78,188.00 466.49,188.00 467.19,188.00 467.89,188.00 468.59,188.00 469.29,188.00 469.99,188.00 470.70,188.00 471.40,188.00 472.10,188.00 472.80,188.00 473.50,188.00 474.20,188.00 474.91,188.00 475.61,188.00 476.31,188.00 477.01,188.00 477.71,188.00 478.41,188.00 479.12,188.00 479.82,188.00 480.52,188.00 481.22,188.00 481.92,188.00 482.62,188.00 483.33,188.00 484.03,188.00 484.73,188.00 485.43,188.00 486.13,188.00 486.83,188.00 487.54,188.00 488.24,188.00 488.94,188.00 489.64,188.00 490.34,188.00 491.04,188.00 491.75,188.00 492.45,188.00 493.15,188.00 493.85,188.00 494.55,188.00 495.25,188.00 495.96,188.00 496.66,188.00 497.36,188.00 498.06,188.00 498.76,188.00 499.46,188.00 500.17,188.00 500.87,188.00 501.57,188.00 502.27,188.00 502.97,188.00 503.67,188.00 504.38,188.00 505.08,188.00 505.78,188.00 506.48,188.00 507.18,188.00 507.88,188.00 508.59,188.00 509.29,188.00 509.99,188.00 510.69,188.00 511.39,188.00 512.09,188.00 512.80,188.00 513.50,188.00 514.20,188.00" stroke="#45e0d0" stroke-width="1.6" stroke-dasharray="4.7,1.9"/>
</g>
<text x="304.50" y="9.40" font-family="'DejaVu Sans', 'Liberation Sans', sans-serif" font-size="10.2" fill="#222222">×10<tspan font-size="7.2" dy="-3.9">−2</tspan></text>
<rect x="316.10" y="14.40" width="186" height="26.6" rx="1.5" fill="#ffffff" fill-opacity="0.8" stroke="#ececec" stroke-width="0.8"/>
<line x1="319.20" y1="21.60" x2="338.20" y2="21.60" stroke="#111111" stroke-width="1.6"/>
<text x="345.50" y="25.20" font-family="'DejaVu Sans', 'Liberation Sans', sans-serif" font-size="9.05" fill="#222222">N</text>
<line x1="319.20" y1="34.50" x2="338.20" y2="34.50" stroke="#2e2eb4" stroke-width="1.6" stroke-dasharray="5.1,1.7"/>
<text x="345.50" y="38.10" font-family="'DejaVu Sans', 'Liberation Sans', sans-serif" font-size="9.05" fill="#222222">VE : De = 1</text>
<line x1="415.00" y1="21.60" x2="434.00" y2="21.60" stroke="#d42a36" stroke-width="1.6" stroke-dasharray="5.1,1.7"/>
<text x="440.70" y="25.20" font-family="'DejaVu Sans', 'Liberation Sans', sans-serif" font-size="9.05" fill="#222222">VE : De = 5</text>
<line x1="415.00" y1="34.50" x2="434.00" y2="34.50" stroke="#45e0d0" stroke-width="1.6" stroke-dasharray="5.1,1.7"/>
<text x="440.70" y="38.10" font-family="'DejaVu Sans', 'Liberation Sans', sans-serif" font-size="9.05" fill="#222222">VE : De = 10</text>
<text class="ax" x="409.30" y="212.00" text-anchor="middle" font-family="'DejaVu Sans', 'Liberation Sans', sans-serif" font-size="11.9" fill="#222222">t [s]</text>
<g transform="translate(289.80,98.90) rotate(-90)" font-family="'DejaVu Sans', 'Liberation Sans', sans-serif" fill="#222222"><text x="-23.6" y="0" font-size="12.8" font-style="italic">U</text><text x="-14.0" y="1.5" font-size="8.2" font-style="italic">cl,</text><text x="-3.6" y="1.7" font-size="8.2" font-style="italic">A</text><text x="4.4" y="0.9" font-size="12.2">[</text><text x="13.3" y="-5.3" font-size="8.4" font-style="italic" text-anchor="middle">m</text><line x1="9.4" y1="-3.2" x2="17.2" y2="-3.2" stroke="#222222" stroke-width="0.7"/><text x="13.4" y="2.7" font-size="8.2" font-style="italic" text-anchor="middle">s</text><text x="19.4" y="0.9" font-size="12.2">]</text></g>
<rect x="33.7" y="272.6" width="209.80" height="178.00" fill="none" stroke="#d6d6d6" stroke-width="1.3"/>
<path d="M33.70,450.60v2.8M33.70,272.60v-2.8M75.66,450.60v2.8M75.66,272.60v-2.8M117.62,450.60v2.8M117.62,272.60v-2.8M159.58,450.60v2.8M159.58,272.60v-2.8M201.54,450.60v2.8M201.54,272.60v-2.8M243.50,450.60v2.8M243.50,272.60v-2.8M33.70,450.60h-2.8M243.50,450.60h2.8M33.70,428.35h-2.8M243.50,428.35h2.8M33.70,406.10h-2.8M243.50,406.10h2.8M33.70,383.85h-2.8M243.50,383.85h2.8M33.70,361.60h-2.8M243.50,361.60h2.8M33.70,339.35h-2.8M243.50,339.35h2.8M33.70,317.10h-2.8M243.50,317.10h2.8M33.70,294.85h-2.8M243.50,294.85h2.8M33.70,272.60h-2.8M243.50,272.60h2.8" stroke="#858585" stroke-width="0.9" fill="none"/>
<g font-family="'DejaVu Sans', 'Liberation Sans', sans-serif" font-size="9.6" fill="#222222">
<text x="33.70" y="461.90" text-anchor="middle">0</text>
<text x="75.66" y="461.90" text-anchor="middle">2</text>
<text x="117.62" y="461.90" text-anchor="middle">4</text>
<text x="159.58" y="461.90" text-anchor="middle">6</text>
<text x="201.54" y="461.90" text-anchor="middle">8</text>
<text x="243.50" y="461.90" text-anchor="middle">10</text>
<text x="30.80" y="454.80" text-anchor="end">0</text>
<text x="30.80" y="432.55" text-anchor="end">1</text>
<text x="30.80" y="410.30" text-anchor="end">2</text>
<text x="30.80" y="388.05" text-anchor="end">3</text>
<text x="30.80" y="365.80" text-anchor="end">4</text>
<text x="30.80" y="343.55" text-anchor="end">5</text>
<text x="30.80" y="321.30" text-anchor="end">6</text>
<text x="30.80" y="299.05" text-anchor="end">7</text>
<text x="30.80" y="276.80" text-anchor="end">8</text>
</g>
<g clip-path="url(#cpc)" fill="none" stroke-linejoin="round">
<polyline points="33.70,450.60 34.40,450.60 35.10,450.60 35.81,450.60 36.51,450.60 37.21,450.60 37.91,450.60 38.61,450.60 39.31,450.56 40.02,450.27 40.72,449.70 41.42,448.87 42.12,447.81 42.82,446.52 43.52,445.01 44.23,443.31 44.93,441.42 45.63,439.32 46.33,437.02 47.03,434.50 47.73,431.74 48.44,428.79 49.14,425.65 49.84,422.36 50.54,418.95 51.24,415.46 51.94,411.94 52.65,408.45 53.35,405.06 54.05,401.83 54.75,398.78 55.45,395.92 56.15,393.20 56.86,390.63 57.56,388.17 58.26,385.82 58.96,383.60 59.66,381.51 60.36,379.57 61.07,377.79 61.77,376.16 62.47,374.66 63.17,373.28 63.87,372.00 64.57,370.82 65.28,369.71 65.98,368.67 66.68,367.68 67.38,366.73 68.08,365.81 68.78,364.92 69.49,364.05 70.19,363.22 70.89,362.41 71.59,361.64 72.29,360.89 72.99,360.16 73.70,359.47 74.40,358.81 75.10,358.17 75.80,357.55 76.50,356.97 77.20,356.41 77.91,355.87 78.61,355.35 79.31,354.86 80.01,354.39 80.71,353.94 81.41,353.51 82.12,353.09 82.82,352.70 83.52,352.32 84.22,351.95 84.92,351.60 85.62,351.26 86.33,350.94 87.03,350.63 87.73,350.33 88.43,350.04 89.13,349.77 89.83,349.50 90.54,349.24 91.24,348.99 91.94,348.75 92.64,348.52 93.34,348.30 94.04,348.08 94.75,347.87 95.45,347.66 96.15,347.46 96.85,347.27 97.55,347.08 98.25,346.89 98.96,346.71 99.66,346.54 100.36,346.37 101.06,346.20 101.76,346.04 102.46,345.88 103.17,345.73 103.87,345.57 104.57,345.43 105.27,345.28 105.97,345.14 106.67,345.00 107.38,344.86 108.08,344.73 108.78,344.60 109.48,344.47 110.18,344.34 110.88,344.22 111.59,344.09 112.29,343.97 112.99,343.86 113.69,343.74 114.39,343.63 115.09,343.51 115.80,343.41 116.50,343.30 117.20,343.19 117.90,343.09 118.60,342.99 119.30,342.89 120.01,342.80 120.71,342.70 121.41,342.61 122.11,342.52 122.81,342.44 123.51,342.35 124.22,342.27 124.92,342.18 125.62,342.10 126.32,342.03 127.02,341.95 127.72,341.88 128.43,341.80 129.13,341.73 129.83,341.66 130.53,341.59 131.23,341.53 131.93,341.46 132.64,341.40 133.34,341.33 134.04,341.27 134.74,341.21 135.44,341.16 136.14,341.10 136.85,341.04 137.55,340.99 138.25,340.93 138.95,340.88 139.65,340.83 140.35,340.78 141.06,340.73 141.76,340.68 142.46,340.63 143.16,340.59 143.86,340.54 144.56,340.50 145.27,340.46 145.97,340.41 146.67,340.37 147.37,340.33 148.07,340.29 148.77,340.25 149.48,340.22 150.18,340.18 150.88,340.14 151.58,340.11 152.28,340.08 152.98,340.04 153.69,340.01 154.39,339.98 155.09,339.95 155.79,339.92 156.49,339.89 157.19,339.86 157.90,339.84 158.60,339.81 159.30,339.79 160.00,339.76 160.70,339.74 161.40,339.71 162.11,339.69 162.81,339.67 163.51,339.65 164.21,339.63 164.91,339.61 165.61,339.59 166.32,339.57 167.02,339.56 167.72,339.54 168.42,339.52 169.12,339.51 169.82,339.49 170.53,339.48 171.23,339.47 171.93,339.46 172.63,339.44 173.33,339.43 174.03,339.42 174.74,339.41 175.44,339.40 176.14,339.39 176.84,339.39 177.54,339.38 178.24,339.37 178.95,339.36 179.65,339.36 180.35,339.35 181.05,339.35 181.75,339.34 182.45,339.34 183.16,339.33 183.86,339.33 184.56,339.33 185.26,339.33 185.96,339.32 186.66,339.32 187.37,339.32 188.07,339.32 188.77,339.32 189.47,339.32 190.17,339.32 190.87,339.32 191.58,339.33 192.28,339.33 192.98,339.33 193.68,339.33 194.38,339.34 195.08,339.34 195.79,339.35 196.49,339.35 197.19,339.36 197.89,339.36 198.59,339.37 199.29,339.37 200.00,339.38 200.70,339.39 201.40,339.39 202.10,339.40 202.80,339.41 203.50,339.42 204.21,339.43 204.91,339.43 205.61,339.44 206.31,339.45 207.01,339.46 207.71,339.47 208.42,339.48 209.12,339.49 209.82,339.50 210.52,339.52 211.22,339.53 211.92,339.54 212.63,339.55 213.33,339.56 214.03,339.57 214.73,339.59 215.43,339.60 216.13,339.61 216.84,339.63 217.54,339.64 218.24,339.65 218.94,339.67 219.64,339.68 220.34,339.70 221.05,339.71 221.75,339.73 222.45,339.74 223.15,339.76 223.85,339.77 224.55,339.79 225.26,339.80 225.96,339.82 226.66,339.83 227.36,339.85 228.06,339.87 228.76,339.88 229.47,339.90 230.17,339.91 230.87,339.93 231.57,339.95 232.27,339.96 232.97,339.98 233.68,340.00 234.38,340.01 235.08,340.03 235.78,340.05 236.48,340.07 237.18,340.08 237.89,340.10 238.59,340.12 239.29,340.14 239.99,340.15 240.69,340.17 241.39,340.19 242.10,340.21 242.80,340.22 243.50,340.24" stroke="#111111" stroke-width="1.6"/>
<polyline points="33.70,450.60 34.38,450.60 35.07,450.60 35.75,450.60 36.44,450.60 37.12,450.60 37.80,450.60 38.49,450.60 39.17,450.58 39.86,450.34 40.54,449.81 41.23,449.04 41.91,448.05 42.59,446.85 43.28,445.48 43.96,443.97 44.65,442.31 45.33,440.46 46.01,438.35 46.70,435.89 47.38,433.01 48.07,429.71 48.75,426.06 49.44,422.16 50.12,418.10 50.80,413.95 51.49,409.80 52.17,405.68 52.86,401.65 53.54,397.75 54.22,394.03 54.91,390.49 55.59,387.11 56.28,383.86 56.96,380.70 57.64,377.61 58.33,374.60 59.01,371.70 59.70,368.94 60.38,366.36 61.07,363.98 61.75,361.80 62.43,359.79 63.12,357.95 63.80,356.25 64.49,354.70 65.17,353.26 65.85,351.93 66.54,350.69 67.22,349.54 67.91,348.44 68.59,347.41 69.27,346.44 69.96,345.52 70.64,344.65 71.33,343.83 72.01,343.05 72.70,342.30 73.38,341.59 74.06,340.91 74.75,340.25 75.43,339.62 76.12,339.00 76.80,338.40 77.48,337.82 78.17,337.26 78.85,336.72 79.54,336.21 80.22,335.71 80.91,335.23 81.59,334.78 82.27,334.35 82.96,333.94 83.64,333.56 84.33,333.20 85.01,332.87 85.69,332.55 86.38,332.26 87.06,331.98 87.75,331.72 88.43,331.48 89.11,331.25 89.80,331.03 90.48,330.83 91.17,330.63 91.85,330.44 92.54,330.25 93.22,330.08 93.90,329.90 94.59,329.73 95.27,329.56 95.96,329.39 96.64,329.22 97.32,329.06 98.01,328.90 98.69,328.74 99.38,328.59 100.06,328.44 100.74,328.29 101.43,328.15 102.11,328.01 102.80,327.88 103.48,327.74 104.17,327.62 104.85,327.49 105.53,327.37 106.22,327.26 106.90,327.15 107.59,327.04 108.27,326.94 108.95,326.84 109.64,326.75 110.32,326.66 111.01,326.58 111.69,326.50 112.38,326.42 113.06,326.35 113.74,326.29 114.43,326.23 115.11,326.17 115.80,326.12 116.48,326.07 117.16,326.03 117.85,325.99 118.53,325.95 119.22,325.92 119.90,325.90 120.58,325.87 121.27,325.85 121.95,325.84 122.64,325.83 123.32,325.82 124.01,325.82 124.69,325.81 125.37,325.81 126.06,325.82 126.74,325.83 127.43,325.83 128.11,325.85 128.79,325.86 129.48,325.88 130.16,325.89 130.85,325.91 131.53,325.94 132.21,325.96 132.90,325.98 133.58,326.01 134.27,326.04 134.95,326.06 135.64,326.09 136.32,326.12 137.00,326.15 137.69,326.18 138.37,326.21 139.06,326.24 139.74,326.27 140.42,326.30 141.11,326.34 141.79,326.37 142.48,326.40 143.16,326.43 143.85,326.46 144.53,326.49 145.21,326.52 145.90,326.56 146.58,326.59 147.27,326.62 147.95,326.65 148.63,326.68 149.32,326.71 150.00,326.75 150.69,326.78 151.37,326.81 152.05,326.84 152.74,326.88 153.42,326.91 154.11,326.94 154.79,326.97 155.48,327.01 156.16,327.04 156.84,327.07 157.53,327.10 158.21,327.14 158.90,327.17 159.58,327.20 160.26,327.23 160.95,327.27 161.63,327.30 162.32,327.33 163.00,327.37 163.68,327.40 164.37,327.43 165.05,327.47 165.74,327.50 166.42,327.53 167.11,327.57 167.79,327.60 168.47,327.63 169.16,327.67 169.84,327.70 170.53,327.73 171.21,327.77 171.89,327.80 172.58,327.83 173.26,327.87 173.95,327.90 174.63,327.93 175.31,327.97 176.00,328.00 176.68,328.03 177.37,328.07 178.05,328.10 178.74,328.14 179.42,328.17 180.10,328.20 180.79,328.24 181.47,328.27 182.16,328.30 182.84,328.34 183.52,328.37 184.21,328.40 184.89,328.44 185.58,328.47 186.26,328.51 186.95,328.54 187.63,328.57 188.31,328.61 189.00,328.64 189.68,328.67 190.37,328.71 191.05,328.74 191.73,328.78 192.42,328.81 193.10,328.84 193.79,328.88 194.47,328.91 195.15,328.94 195.84,328.98 196.52,329.01 197.21,329.05 197.89,329.08 198.58,329.11 199.26,329.15 199.94,329.18 200.63,329.22 201.31,329.25 202.00,329.28 202.68,329.32 203.36,329.35 204.05,329.38 204.73,329.42 205.42,329.45 206.10,329.49 206.79,329.52 207.47,329.55 208.15,329.59 208.84,329.62 209.52,329.66 210.21,329.69 210.89,329.72 211.57,329.76 212.26,329.79 212.94,329.82 213.63,329.86 214.31,329.89 214.99,329.93 215.68,329.96 216.36,329.99 217.05,330.03 217.73,330.06 218.42,330.10 219.10,330.13 219.78,330.16 220.47,330.20 221.15,330.23 221.84,330.27 222.52,330.30 223.20,330.33 223.89,330.37 224.57,330.40 225.26,330.43 225.94,330.47 226.62,330.50 227.31,330.54 227.99,330.57 228.68,330.60 229.36,330.64 230.05,330.67 230.73,330.71 231.41,330.74 232.10,330.77 232.78,330.81 233.47,330.84 234.15,330.88 234.83,330.91 235.52,330.94 236.20,330.98 236.89,331.01 237.57,331.05 238.25,331.08" stroke="#2e2eb4" stroke-width="1.6" stroke-dasharray="4.7,1.9"/>
<polyline points="33.70,450.60 34.40,450.60 35.10,450.60 35.81,450.60 36.51,450.60 37.21,450.60 37.91,450.60 38.61,450.60 39.31,450.60 40.02,450.60 40.72,450.60 41.42,450.60 42.12,450.55 42.82,450.40 43.52,450.16 44.23,449.82 44.93,449.40 45.63,448.90 46.33,448.34 47.03,447.71 47.73,447.03 48.44,446.29 49.14,445.51 49.84,444.70 50.54,443.86 51.24,442.99 51.94,442.08 52.65,441.11 53.35,440.08 54.05,438.97 54.75,437.76 55.45,436.44 56.15,434.99 56.86,433.41 57.56,431.67 58.26,429.77 58.96,427.74 59.66,425.59 60.36,423.33 61.07,420.99 61.77,418.57 62.47,416.09 63.17,413.57 63.87,411.02 64.57,408.46 65.28,405.89 65.98,403.33 66.68,400.79 67.38,398.28 68.08,395.82 68.78,393.41 69.49,391.06 70.19,388.77 70.89,386.56 71.59,384.43 72.29,382.39 72.99,380.45 73.70,378.60 74.40,376.84 75.10,375.19 75.80,373.64 76.50,372.20 77.20,370.86 77.91,369.62 78.61,368.48 79.31,367.42 80.01,366.44 80.71,365.53 81.41,364.68 82.12,363.87 82.82,363.11 83.52,362.38 84.22,361.68 84.92,361.00 85.62,360.34 86.33,359.70 87.03,359.09 87.73,358.50 88.43,357.93 89.13,357.38 89.83,356.86 90.54,356.36 91.24,355.88 91.94,355.42 92.64,354.98 93.34,354.57 94.04,354.17 94.75,353.80 95.45,353.45 96.15,353.12 96.85,352.81 97.55,352.51 98.25,352.24 98.96,351.98 99.66,351.74 100.36,351.51 101.06,351.30 101.76,351.11 102.46,350.93 103.17,350.76 103.87,350.60 104.57,350.46 105.27,350.33 105.97,350.21 106.67,350.10 107.38,350.00 108.08,349.90 108.78,349.82 109.48,349.74 110.18,349.68 110.88,349.62 111.59,349.56 112.29,349.52 112.99,349.48 113.69,349.45 114.39,349.42 115.09,349.40 115.80,349.38 116.50,349.37 117.20,349.36 117.90,349.36 118.60,349.36 119.30,349.37 120.01,349.38 120.71,349.39 121.41,349.41 122.11,349.43 122.81,349.45 123.51,349.47 124.22,349.50 124.92,349.53 125.62,349.57 126.32,349.60 127.02,349.64 127.72,349.68 128.43,349.72 129.13,349.77 129.83,349.81 130.53,349.86 131.23,349.91 131.93,349.96 132.64,350.01 133.34,350.06 134.04,350.12 134.74,350.17 135.44,350.22 136.14,350.28 136.85,350.34 137.55,350.39 138.25,350.45 138.95,350.50 139.65,350.56 140.35,350.61 141.06,350.67 141.76,350.72 142.46,350.78 143.16,350.83 143.86,350.89 144.56,350.94 145.27,351.00 145.97,351.05 146.67,351.11 147.37,351.16 148.07,351.22 148.77,351.27 149.48,351.33 150.18,351.38 150.88,351.43 151.58,351.49 152.28,351.54 152.98,351.60 153.69,351.65 154.39,351.71 155.09,351.76 155.79,351.81 156.49,351.87 157.19,351.92 157.90,351.98 158.60,352.03 159.30,352.09 160.00,352.14 160.70,352.20 161.40,352.25 162.11,352.31 162.81,352.36 163.51,352.42 164.21,352.47 164.91,352.53 165.61,352.58 166.32,352.64 167.02,352.69 167.72,352.75 168.42,352.81 169.12,352.86 169.82,352.92 170.53,352.98 171.23,353.03 171.93,353.09 172.63,353.15 173.33,353.21 174.03,353.26 174.74,353.32 175.44,353.38 176.14,353.44 176.84,353.50 177.54,353.56 178.24,353.61 178.95,353.67 179.65,353.73 180.35,353.79 181.05,353.85 181.75,353.92 182.45,353.98 183.16,354.04 183.86,354.10 184.56,354.16 185.26,354.22 185.96,354.29 186.66,354.35 187.37,354.41 188.07,354.48 188.77,354.54 189.47,354.60 190.17,354.67 190.87,354.73 191.58,354.80 192.28,354.86 192.98,354.93 193.68,354.99 194.38,355.06 195.08,355.12 195.79,355.19 196.49,355.25 197.19,355.32 197.89,355.39 198.59,355.45 199.29,355.52 200.00,355.59 200.70,355.66 201.40,355.72 202.10,355.79 202.80,355.86 203.50,355.93 204.21,356.00 204.91,356.07 205.61,356.14 206.31,356.20 207.01,356.27 207.71,356.34 208.42,356.41 209.12,356.48 209.82,356.55 210.52,356.62 211.22,356.69 211.92,356.76 212.63,356.83 213.33,356.91 214.03,356.98 214.73,357.05 215.43,357.12 216.13,357.19 216.84,357.26 217.54,357.33 218.24,357.41 218.94,357.48 219.64,357.55 220.34,357.62 221.05,357.69 221.75,357.77 222.45,357.84 223.15,357.91 223.85,357.98 224.55,358.06 225.26,358.13 225.96,358.20 226.66,358.27 227.36,358.35 228.06,358.42 228.76,358.49 229.47,358.57 230.17,358.64 230.87,358.71 231.57,358.79 232.27,358.86 232.97,358.93 233.68,359.01 234.38,359.08 235.08,359.16 235.78,359.23 236.48,359.30 237.18,359.38 237.89,359.45 238.59,359.52 239.29,359.60 239.99,359.67 240.69,359.75 241.39,359.82 242.10,359.89 242.80,359.97 243.50,360.04" stroke="#d42a36" stroke-width="1.6" stroke-dasharray="4.7,1.9"/>
<polyline points="33.70,450.60 34.40,450.60 35.10,450.60 35.81,450.60 36.51,450.60 37.21,450.60 37.91,450.60 38.61,450.60 39.31,450.60 40.02,450.60 40.72,450.60 41.42,450.60 42.12,450.60 42.82,450.60 43.52,450.60 44.23,450.60 44.93,450.57 45.63,450.47 46.33,450.32 47.03,450.12 47.73,449.87 48.44,449.58 49.14,449.26 49.84,448.90 50.54,448.51 51.24,448.10 51.94,447.67 52.65,447.22 53.35,446.76 54.05,446.29 54.75,445.80 55.45,445.29 56.15,444.75 56.86,444.18 57.56,443.59 58.26,442.96 58.96,442.28 59.66,441.57 60.36,440.82 61.07,440.01 61.77,439.16 62.47,438.25 63.17,437.28 63.87,436.26 64.57,435.18 65.28,434.03 65.98,432.81 66.68,431.52 67.38,430.16 68.08,428.73 68.78,427.23 69.49,425.65 70.19,424.01 70.89,422.30 71.59,420.53 72.29,418.70 72.99,416.82 73.70,414.90 74.40,412.95 75.10,411.01 75.80,409.09 76.50,407.20 77.20,405.36 77.91,403.59 78.61,401.87 79.31,400.22 80.01,398.62 80.71,397.07 81.41,395.58 82.12,394.14 82.82,392.75 83.52,391.41 84.22,390.11 84.92,388.85 85.62,387.65 86.33,386.49 87.03,385.39 87.73,384.34 88.43,383.34 89.13,382.41 89.83,381.54 90.54,380.73 91.24,379.97 91.94,379.27 92.64,378.61 93.34,377.98 94.04,377.37 94.75,376.77 95.45,376.20 96.15,375.65 96.85,375.12 97.55,374.60 98.25,374.11 98.96,373.63 99.66,373.17 100.36,372.73 101.06,372.31 101.76,371.91 102.46,371.52 103.17,371.15 103.87,370.80 104.57,370.46 105.27,370.15 105.97,369.85 106.67,369.56 107.38,369.30 108.08,369.05 108.78,368.81 109.48,368.59 110.18,368.38 110.88,368.19 111.59,368.02 112.29,367.85 112.99,367.70 113.69,367.55 114.39,367.42 115.09,367.30 115.80,367.19 116.50,367.09 117.20,366.99 117.90,366.91 118.60,366.83 119.30,366.76 120.01,366.69 120.71,366.63 121.41,366.58 122.11,366.53 122.81,366.49 123.51,366.46 124.22,366.43 124.92,366.41 125.62,366.39 126.32,366.38 127.02,366.37 127.72,366.37 128.43,366.37 129.13,366.37 129.83,366.38 130.53,366.39 131.23,366.41 131.93,366.42 132.64,366.45 133.34,366.47 134.04,366.50 134.74,366.53 135.44,366.56 136.14,366.59 136.85,366.62 137.55,366.66 138.25,366.70 138.95,366.74 139.65,366.78 140.35,366.82 141.06,366.86 141.76,366.90 142.46,366.94 143.16,366.99 143.86,367.03 144.56,367.07 145.27,367.12 145.97,367.17 146.67,367.21 147.37,367.26 148.07,367.31 148.77,367.36 149.48,367.41 150.18,367.46 150.88,367.51 151.58,367.57 152.28,367.62 152.98,367.67 153.69,367.72 154.39,367.78 155.09,367.83 155.79,367.89 156.49,367.95 157.19,368.00 157.90,368.06 158.60,368.12 159.30,368.17 160.00,368.23 160.70,368.29 161.40,368.35 162.11,368.41 162.81,368.47 163.51,368.53 164.21,368.59 164.91,368.65 165.61,368.71 166.32,368.77 167.02,368.83 167.72,368.90 168.42,368.96 169.12,369.02 169.82,369.08 170.53,369.15 171.23,369.21 171.93,369.27 172.63,369.34 173.33,369.40 174.03,369.46 174.74,369.53 175.44,369.59 176.14,369.65 176.84,369.72 177.54,369.78 178.24,369.84 178.95,369.91 179.65,369.97 180.35,370.04 181.05,370.10 181.75,370.16 182.45,370.23 183.16,370.29 183.86,370.35 184.56,370.42 185.26,370.48 185.96,370.54 186.66,370.61 187.37,370.67 188.07,370.73 188.77,370.80 189.47,370.86 190.17,370.92 190.87,370.99 191.58,371.05 192.28,371.11 192.98,371.17 193.68,371.24 194.38,371.30 195.08,371.36 195.79,371.42 196.49,371.49 197.19,371.55 197.89,371.61 198.59,371.67 199.29,371.74 200.00,371.80 200.70,371.86 201.40,371.92 202.10,371.99 202.80,372.05 203.50,372.11 204.21,372.17 204.91,372.24 205.61,372.30 206.31,372.36 207.01,372.42 207.71,372.48 208.42,372.55 209.12,372.61 209.82,372.67 210.52,372.73 211.22,372.79 211.92,372.86 212.63,372.92 213.33,372.98 214.03,373.04 214.73,373.10 215.43,373.16 216.13,373.23 216.84,373.29 217.54,373.35 218.24,373.41 218.94,373.47 219.64,373.53 220.34,373.59 221.05,373.66 221.75,373.72 222.45,373.78 223.15,373.84 223.85,373.90 224.55,373.96 225.26,374.03 225.96,374.09 226.66,374.15 227.36,374.21 228.06,374.27 228.76,374.33 229.47,374.39 230.17,374.45 230.87,374.52 231.57,374.58 232.27,374.64 232.97,374.70 233.68,374.76 234.38,374.82 235.08,374.88 235.78,374.94 236.48,375.01 237.18,375.07 237.89,375.13 238.59,375.19 239.29,375.25 239.99,375.31 240.69,375.37 241.39,375.43 242.10,375.50 242.80,375.56 243.50,375.62" stroke="#45e0d0" stroke-width="1.6" stroke-dasharray="4.7,1.9"/>
</g>
<text x="33.80" y="272.20" font-family="'DejaVu Sans', 'Liberation Sans', sans-serif" font-size="10.2" fill="#222222">×10<tspan font-size="7.2" dy="-3.9">−2</tspan></text>
<rect x="45.40" y="277.20" width="186" height="26.6" rx="1.5" fill="#ffffff" fill-opacity="0.8" stroke="#ececec" stroke-width="0.8"/>
<line x1="48.50" y1="284.40" x2="67.50" y2="284.40" stroke="#111111" stroke-width="1.6"/>
<text x="74.80" y="288.00" font-family="'DejaVu Sans', 'Liberation Sans', sans-serif" font-size="9.05" fill="#222222">N</text>
<line x1="48.50" y1="297.30" x2="67.50" y2="297.30" stroke="#2e2eb4" stroke-width="1.6" stroke-dasharray="5.1,1.7"/>
<text x="74.80" y="300.90" font-family="'DejaVu Sans', 'Liberation Sans', sans-serif" font-size="9.05" fill="#222222">VE : De = 1</text>
<line x1="144.30" y1="284.40" x2="163.30" y2="284.40" stroke="#d42a36" stroke-width="1.6" stroke-dasharray="5.1,1.7"/>
<text x="170.00" y="288.00" font-family="'DejaVu Sans', 'Liberation Sans', sans-serif" font-size="9.05" fill="#222222">VE : De = 5</text>
<line x1="144.30" y1="297.30" x2="163.30" y2="297.30" stroke="#45e0d0" stroke-width="1.6" stroke-dasharray="5.1,1.7"/>
<text x="170.00" y="300.90" font-family="'DejaVu Sans', 'Liberation Sans', sans-serif" font-size="9.05" fill="#222222">VE : De = 10</text>
<text class="ax" x="138.60" y="474.60" text-anchor="middle" font-family="'DejaVu Sans', 'Liberation Sans', sans-serif" font-size="11.9" fill="#222222">t [s]</text>
<g transform="translate(19.10,361.60) rotate(-90)" font-family="'DejaVu Sans', 'Liberation Sans', sans-serif" fill="#222222"><text x="-23.6" y="0" font-size="12.8" font-style="italic">U</text><text x="-14.0" y="1.5" font-size="8.2" font-style="italic">cl,</text><text x="-3.6" y="1.7" font-size="8.2" font-style="italic">R</text><text x="4.4" y="0.9" font-size="12.2">[</text><text x="13.3" y="-5.3" font-size="8.4" font-style="italic" text-anchor="middle">m</text><line x1="9.4" y1="-3.2" x2="17.2" y2="-3.2" stroke="#222222" stroke-width="0.7"/><text x="13.4" y="2.7" font-size="8.2" font-style="italic" text-anchor="middle">s</text><text x="19.4" y="0.9" font-size="12.2">]</text></g>
<rect x="304.4" y="272.6" width="209.80" height="178.00" fill="none" stroke="#d6d6d6" stroke-width="1.3"/>
<path d="M304.40,450.60v2.8M304.40,272.60v-2.8M346.36,450.60v2.8M346.36,272.60v-2.8M388.32,450.60v2.8M388.32,272.60v-2.8M430.28,450.60v2.8M430.28,272.60v-2.8M472.24,450.60v2.8M472.24,272.60v-2.8M514.20,450.60v2.8M514.20,272.60v-2.8M304.40,450.60h-2.8M514.20,450.60h2.8M304.40,428.35h-2.8M514.20,428.35h2.8M304.40,406.10h-2.8M514.20,406.10h2.8M304.40,383.85h-2.8M514.20,383.85h2.8M304.40,361.60h-2.8M514.20,361.60h2.8M304.40,339.35h-2.8M514.20,339.35h2.8M304.40,317.10h-2.8M514.20,317.10h2.8M304.40,294.85h-2.8M514.20,294.85h2.8M304.40,272.60h-2.8M514.20,272.60h2.8" stroke="#858585" stroke-width="0.9" fill="none"/>
<g font-family="'DejaVu Sans', 'Liberation Sans', sans-serif" font-size="9.6" fill="#222222">
<text x="304.40" y="461.90" text-anchor="middle">0</text>
<text x="346.36" y="461.90" text-anchor="middle">2</text>
<text x="388.32" y="461.90" text-anchor="middle">4</text>
<text x="430.28" y="461.90" text-anchor="middle">6</text>
<text x="472.24" y="461.90" text-anchor="middle">8</text>
<text x="514.20" y="461.90" text-anchor="middle">10</text>
<text x="301.50" y="454.80" text-anchor="end">0</text>
<text x="301.50" y="432.55" text-anchor="end">1</text>
<text x="301.50" y="410.30" text-anchor="end">2</text>
<text x="301.50" y="388.05" text-anchor="end">3</text>
<text x="301.50" y="365.80" text-anchor="end">4</text>
<text x="301.50" y="343.55" text-anchor="end">5</text>
<text x="301.50" y="321.30" text-anchor="end">6</text>
<text x="301.50" y="299.05" text-anchor="end">7</text>
<text x="301.50" y="276.80" text-anchor="end">8</text>
</g>
<g clip-path="url(#cpd)" fill="none" stroke-linejoin="round">
<polyline points="304.40,450.60 305.10,450.60 305.80,450.60 306.51,450.60 307.21,450.60 307.91,450.60 308.61,450.60 309.31,450.60 310.01,450.60 310.72,450.48 311.42,449.83 312.12,448.68 312.82,447.11 313.52,445.19 314.22,442.99 314.93,440.55 315.63,437.91 316.33,435.12 317.03,432.21 317.73,429.21 318.43,426.13 319.14,422.98 319.84,419.78 320.54,416.56 321.24,413.37 321.94,410.30 322.64,407.40 323.35,404.75 324.05,402.34 324.75,400.13 325.45,398.08 326.15,396.15 326.85,394.30 327.56,392.55 328.26,390.91 328.96,389.38 329.66,387.97 330.36,386.69 331.06,385.51 331.77,384.44 332.47,383.46 333.17,382.56 333.87,381.73 334.57,380.96 335.27,380.24 335.98,379.56 336.68,378.92 337.38,378.31 338.08,377.73 338.78,377.18 339.48,376.67 340.19,376.18 340.89,375.71 341.59,375.27 342.29,374.85 342.99,374.45 343.69,374.07 344.40,373.70 345.10,373.36 345.80,373.03 346.50,372.71 347.20,372.41 347.90,372.11 348.61,371.83 349.31,371.56 350.01,371.29 350.71,371.04 351.41,370.79 352.11,370.55 352.82,370.32 353.52,370.09 354.22,369.87 354.92,369.65 355.62,369.44 356.32,369.24 357.03,369.04 357.73,368.85 358.43,368.66 359.13,368.48 359.83,368.31 360.53,368.15 361.24,367.99 361.94,367.85 362.64,367.70 363.34,367.57 364.04,367.44 364.74,367.32 365.45,367.21 366.15,367.10 366.85,366.99 367.55,366.90 368.25,366.80 368.95,366.72 369.66,366.64 370.36,366.56 371.06,366.49 371.76,366.43 372.46,366.37 373.16,366.31 373.87,366.26 374.57,366.21 375.27,366.16 375.97,366.12 376.67,366.08 377.37,366.05 378.08,366.02 378.78,365.99 379.48,365.97 380.18,365.94 380.88,365.92 381.58,365.91 382.29,365.89 382.99,365.88 383.69,365.87 384.39,365.86 385.09,365.85 385.79,365.84 386.50,365.84 387.20,365.84 387.90,365.83 388.60,365.83 389.30,365.83 390.00,365.83 390.71,365.83 391.41,365.83 392.11,365.83 392.81,365.83 393.51,365.83 394.21,365.83 394.92,365.83 395.62,365.83 396.32,365.83 397.02,365.83 397.72,365.84 398.42,365.84 399.13,365.84 399.83,365.84 400.53,365.85 401.23,365.85 401.93,365.86 402.63,365.86 403.34,365.87 404.04,365.87 404.74,365.88 405.44,365.88 406.14,365.89 406.84,365.90 407.55,365.90 408.25,365.91 408.95,365.92 409.65,365.92 410.35,365.93 411.05,365.94 411.76,365.95 412.46,365.96 413.16,365.97 413.86,365.97 414.56,365.98 415.26,365.99 415.97,366.00 416.67,366.01 417.37,366.02 418.07,366.03 418.77,366.04 419.47,366.05 420.18,366.07 420.88,366.08 421.58,366.09 422.28,366.10 422.98,366.11 423.68,366.12 424.39,366.14 425.09,366.15 425.79,366.16 426.49,366.18 427.19,366.19 427.89,366.20 428.60,366.22 429.30,366.23 430.00,366.24 430.70,366.26 431.40,366.27 432.10,366.29 432.81,366.30 433.51,366.32 434.21,366.34 434.91,366.35 435.61,366.37 436.31,366.38 437.02,366.40 437.72,366.42 438.42,366.43 439.12,366.45 439.82,366.47 440.52,366.49 441.23,366.51 441.93,366.52 442.63,366.54 443.33,366.56 444.03,366.58 444.73,366.60 445.44,366.62 446.14,366.64 446.84,366.66 447.54,366.68 448.24,366.70 448.94,366.72 449.65,366.74 450.35,366.77 451.05,366.79 451.75,366.81 452.45,366.83 453.15,366.86 453.86,366.88 454.56,366.90 455.26,366.93 455.96,366.95 456.66,366.97 457.36,367.00 458.07,367.02 458.77,367.05 459.47,367.07 460.17,367.10 460.87,367.12 461.57,367.15 462.28,367.17 462.98,367.20 463.68,367.23 464.38,367.25 465.08,367.28 465.78,367.31 466.49,367.33 467.19,367.36 467.89,367.39 468.59,367.42 469.29,367.45 469.99,367.47 470.70,367.50 471.40,367.53 472.10,367.56 472.80,367.59 473.50,367.62 474.20,367.65 474.91,367.68 475.61,367.71 476.31,367.74 477.01,367.77 477.71,367.80 478.41,367.83 479.12,367.87 479.82,367.90 480.52,367.93 481.22,367.96 481.92,367.99 482.62,368.03 483.33,368.06 484.03,368.09 484.73,368.12 485.43,368.16 486.13,368.19 486.83,368.22 487.54,368.26 488.24,368.29 488.94,368.32 489.64,368.36 490.34,368.39 491.04,368.43 491.75,368.46 492.45,368.50 493.15,368.53 493.85,368.57 494.55,368.60 495.25,368.64 495.96,368.67 496.66,368.71 497.36,368.74 498.06,368.78 498.76,368.81 499.46,368.85 500.17,368.88 500.87,368.92 501.57,368.96 502.27,368.99 502.97,369.03 503.67,369.06 504.38,369.10 505.08,369.14 505.78,369.17 506.48,369.21 507.18,369.24 507.88,369.28 508.59,369.32 509.29,369.35 509.99,369.39 510.69,369.43 511.39,369.46 512.09,369.50 512.80,369.54 513.50,369.57 514.20,369.61" stroke="#111111" stroke-width="1.6"/>
<polyline points="304.40,450.60 305.08,450.60 305.77,450.60 306.45,450.60 307.14,450.60 307.82,450.60 308.50,450.60 309.19,450.60 309.87,450.60 310.56,450.60 311.24,450.57 311.93,450.42 312.61,450.10 313.29,449.59 313.98,448.83 314.66,447.78 315.35,446.41 316.03,444.68 316.71,442.54 317.40,440.01 318.08,437.22 318.77,434.31 319.45,431.43 320.13,428.71 320.82,426.18 321.50,423.79 322.19,421.48 322.87,419.20 323.56,416.89 324.24,414.60 324.92,412.36 325.61,410.20 326.29,408.17 326.98,406.28 327.66,404.52 328.34,402.86 329.03,401.27 329.71,399.75 330.40,398.28 331.08,396.86 331.77,395.49 332.45,394.18 333.13,392.91 333.82,391.69 334.50,390.52 335.19,389.39 335.87,388.31 336.55,387.27 337.24,386.27 337.92,385.31 338.61,384.40 339.29,383.53 339.97,382.70 340.66,381.91 341.34,381.16 342.03,380.45 342.71,379.77 343.40,379.14 344.08,378.54 344.76,377.97 345.45,377.43 346.13,376.92 346.82,376.43 347.50,375.97 348.18,375.52 348.87,375.10 349.55,374.69 350.24,374.30 350.92,373.91 351.61,373.54 352.29,373.16 352.97,372.79 353.66,372.42 354.34,372.05 355.03,371.68 355.71,371.29 356.39,370.91 357.08,370.53 357.76,370.15 358.45,369.77 359.13,369.40 359.81,369.04 360.50,368.68 361.18,368.34 361.87,368.01 362.55,367.68 363.24,367.36 363.92,367.05 364.60,366.75 365.29,366.46 365.97,366.18 366.66,365.90 367.34,365.63 368.02,365.36 368.71,365.10 369.39,364.85 370.08,364.60 370.76,364.36 371.44,364.12 372.13,363.88 372.81,363.65 373.50,363.43 374.18,363.20 374.87,362.98 375.55,362.76 376.23,362.55 376.92,362.34 377.60,362.13 378.29,361.93 378.97,361.73 379.65,361.53 380.34,361.34 381.02,361.15 381.71,360.97 382.39,360.79 383.07,360.61 383.76,360.44 384.44,360.27 385.13,360.11 385.81,359.95 386.50,359.79 387.18,359.64 387.86,359.50 388.55,359.36 389.23,359.22 389.92,359.09 390.60,358.96 391.28,358.84 391.97,358.72 392.65,358.61 393.34,358.50 394.02,358.39 394.71,358.29 395.39,358.20 396.07,358.10 396.76,358.01 397.44,357.93 398.13,357.84 398.81,357.77 399.49,357.69 400.18,357.62 400.86,357.54 401.55,357.48 402.23,357.41 402.91,357.35 403.60,357.29 404.28,357.23 404.97,357.17 405.65,357.12 406.34,357.07 407.02,357.02 407.70,356.97 408.39,356.92 409.07,356.87 409.76,356.83 410.44,356.78 411.12,356.74 411.81,356.70 412.49,356.66 413.18,356.62 413.86,356.57 414.55,356.53 415.23,356.49 415.91,356.45 416.60,356.41 417.28,356.37 417.97,356.33 418.65,356.29 419.33,356.25 420.02,356.21 420.70,356.16 421.39,356.12 422.07,356.08 422.75,356.03 423.44,355.98 424.12,355.94 424.81,355.89 425.49,355.85 426.18,355.80 426.86,355.75 427.54,355.70 428.23,355.66 428.91,355.61 429.60,355.56 430.28,355.51 430.96,355.46 431.65,355.41 432.33,355.36 433.02,355.31 433.70,355.26 434.38,355.22 435.07,355.17 435.75,355.12 436.44,355.07 437.12,355.02 437.81,354.97 438.49,354.92 439.17,354.88 439.86,354.83 440.54,354.78 441.23,354.74 441.91,354.69 442.59,354.64 443.28,354.60 443.96,354.55 444.65,354.51 445.33,354.47 446.02,354.42 446.70,354.38 447.38,354.34 448.07,354.30 448.75,354.26 449.44,354.22 450.12,354.18 450.80,354.14 451.49,354.10 452.17,354.07 452.86,354.03 453.54,354.00 454.22,353.96 454.91,353.93 455.59,353.90 456.28,353.87 456.96,353.83 457.65,353.80 458.33,353.77 459.01,353.74 459.70,353.72 460.38,353.69 461.07,353.66 461.75,353.63 462.43,353.61 463.12,353.58 463.80,353.56 464.49,353.53 465.17,353.51 465.85,353.48 466.54,353.46 467.22,353.44 467.91,353.42 468.59,353.40 469.28,353.38 469.96,353.36 470.64,353.34 471.33,353.32 472.01,353.30 472.70,353.28 473.38,353.26 474.06,353.24 474.75,353.23 475.43,353.21 476.12,353.19 476.80,353.18 477.49,353.16 478.17,353.15 478.85,353.13 479.54,353.12 480.22,353.11 480.91,353.09 481.59,353.08 482.27,353.07 482.96,353.05 483.64,353.04 484.33,353.03 485.01,353.02 485.69,353.01 486.38,352.99 487.06,352.98 487.75,352.97 488.43,352.96 489.12,352.95 489.80,352.94 490.48,352.93 491.17,352.92 491.85,352.91 492.54,352.91 493.22,352.90 493.90,352.89 494.59,352.88 495.27,352.87 495.96,352.86 496.64,352.86 497.32,352.85 498.01,352.84 498.69,352.83 499.38,352.83 500.06,352.82 500.75,352.81 501.43,352.81 502.11,352.80 502.80,352.79 503.48,352.79 504.17,352.78 504.85,352.78 505.53,352.77 506.22,352.76 506.90,352.76 507.59,352.75 508.27,352.75 508.96,352.74" stroke="#2e2eb4" stroke-width="1.6" stroke-dasharray="4.7,1.9"/>
<polyline points="304.40,450.60 305.10,450.60 305.80,450.60 306.51,450.60 307.21,450.60 307.91,450.60 308.61,450.60 309.31,450.60 310.01,450.60 310.72,450.60 311.42,450.41 312.12,449.89 312.82,449.12 313.52,448.17 314.22,447.09 314.93,445.96 315.63,444.84 316.33,443.80 317.03,442.91 317.73,442.16 318.43,441.53 319.14,440.97 319.84,440.46 320.54,439.96 321.24,439.43 321.94,438.86 322.64,438.24 323.35,437.58 324.05,436.89 324.75,436.18 325.45,435.45 326.15,434.72 326.85,433.99 327.56,433.26 328.26,432.56 328.96,431.87 329.66,431.22 330.36,430.61 331.06,430.02 331.77,429.46 332.47,428.93 333.17,428.42 333.87,427.94 334.57,427.48 335.27,427.03 335.98,426.61 336.68,426.19 337.38,425.79 338.08,425.40 338.78,425.02 339.48,424.65 340.19,424.28 340.89,423.91 341.59,423.54 342.29,423.17 342.99,422.79 343.69,422.42 344.40,422.04 345.10,421.66 345.80,421.28 346.50,420.90 347.20,420.51 347.90,420.13 348.61,419.74 349.31,419.35 350.01,418.96 350.71,418.57 351.41,418.18 352.11,417.79 352.82,417.40 353.52,417.01 354.22,416.62 354.92,416.23 355.62,415.84 356.32,415.45 357.03,415.06 357.73,414.68 358.43,414.29 359.13,413.91 359.83,413.53 360.53,413.15 361.24,412.78 361.94,412.41 362.64,412.05 363.34,411.68 364.04,411.32 364.74,410.97 365.45,410.61 366.15,410.26 366.85,409.92 367.55,409.58 368.25,409.24 368.95,408.90 369.66,408.57 370.36,408.24 371.06,407.92 371.76,407.60 372.46,407.29 373.16,406.97 373.87,406.67 374.57,406.36 375.27,406.06 375.97,405.77 376.67,405.48 377.37,405.19 378.08,404.90 378.78,404.62 379.48,404.35 380.18,404.07 380.88,403.81 381.58,403.54 382.29,403.28 382.99,403.02 383.69,402.76 384.39,402.51 385.09,402.27 385.79,402.02 386.50,401.78 387.20,401.54 387.90,401.31 388.60,401.08 389.30,400.85 390.00,400.62 390.71,400.40 391.41,400.18 392.11,399.97 392.81,399.76 393.51,399.55 394.21,399.34 394.92,399.13 395.62,398.93 396.32,398.73 397.02,398.54 397.72,398.34 398.42,398.15 399.13,397.96 399.83,397.77 400.53,397.59 401.23,397.40 401.93,397.22 402.63,397.04 403.34,396.86 404.04,396.69 404.74,396.51 405.44,396.34 406.14,396.17 406.84,396.00 407.55,395.83 408.25,395.67 408.95,395.50 409.65,395.34 410.35,395.17 411.05,395.01 411.76,394.85 412.46,394.69 413.16,394.53 413.86,394.37 414.56,394.21 415.26,394.06 415.97,393.90 416.67,393.75 417.37,393.59 418.07,393.44 418.77,393.28 419.47,393.13 420.18,392.97 420.88,392.82 421.58,392.66 422.28,392.51 422.98,392.36 423.68,392.20 424.39,392.05 425.09,391.90 425.79,391.74 426.49,391.59 427.19,391.44 427.89,391.29 428.60,391.13 429.30,390.98 430.00,390.83 430.70,390.68 431.40,390.52 432.10,390.37 432.81,390.22 433.51,390.07 434.21,389.91 434.91,389.76 435.61,389.61 436.31,389.46 437.02,389.30 437.72,389.15 438.42,389.00 439.12,388.85 439.82,388.69 440.52,388.54 441.23,388.39 441.93,388.24 442.63,388.08 443.33,387.93 444.03,387.78 444.73,387.62 445.44,387.47 446.14,387.32 446.84,387.16 447.54,387.01 448.24,386.85 448.94,386.70 449.65,386.54 450.35,386.39 451.05,386.23 451.75,386.08 452.45,385.92 453.15,385.77 453.86,385.61 454.56,385.46 455.26,385.31 455.96,385.15 456.66,385.00 457.36,384.85 458.07,384.70 458.77,384.55 459.47,384.40 460.17,384.25 460.87,384.10 461.57,383.95 462.28,383.81 462.98,383.66 463.68,383.52 464.38,383.38 465.08,383.24 465.78,383.10 466.49,382.96 467.19,382.83 467.89,382.69 468.59,382.56 469.29,382.43 469.99,382.30 470.70,382.18 471.40,382.05 472.10,381.93 472.80,381.81 473.50,381.69 474.20,381.58 474.91,381.47 475.61,381.36 476.31,381.25 477.01,381.15 477.71,381.04 478.41,380.94 479.12,380.85 479.82,380.76 480.52,380.67 481.22,380.58 481.92,380.49 482.62,380.41 483.33,380.33 484.03,380.25 484.73,380.18 485.43,380.11 486.13,380.04 486.83,379.97 487.54,379.91 488.24,379.84 488.94,379.78 489.64,379.72 490.34,379.67 491.04,379.61 491.75,379.56 492.45,379.51 493.15,379.46 493.85,379.41 494.55,379.36 495.25,379.32 495.96,379.27 496.66,379.23 497.36,379.19 498.06,379.15 498.76,379.12 499.46,379.08 500.17,379.05 500.87,379.01 501.57,378.98 502.27,378.95 502.97,378.92 503.67,378.89 504.38,378.86 505.08,378.83 505.78,378.80 506.48,378.78 507.18,378.75 507.88,378.72 508.59,378.70 509.29,378.67 509.99,378.65 510.69,378.63 511.39,378.60 512.09,378.58 512.80,378.56 513.50,378.53 514.20,378.51" stroke="#d42a36" stroke-width="1.6" stroke-dasharray="4.7,1.9"/>
<polyline points="304.40,450.60 305.10,450.60 305.80,450.60 306.51,450.60 307.21,450.60 307.91,450.60 308.61,450.60 309.31,450.60 310.01,450.60 310.72,450.60 311.42,450.42 312.12,449.95 312.82,449.25 313.52,448.38 314.22,447.42 314.93,446.43 315.63,445.48 316.33,444.63 317.03,443.94 317.73,443.41 318.43,443.03 319.14,442.74 319.84,442.51 320.54,442.32 321.24,442.13 321.94,441.91 322.64,441.65 323.35,441.37 324.05,441.07 324.75,440.76 325.45,440.42 326.15,440.08 326.85,439.73 327.56,439.38 328.26,439.03 328.96,438.68 329.66,438.34 330.36,438.02 331.06,437.70 331.77,437.39 332.47,437.09 333.17,436.79 333.87,436.50 334.57,436.22 335.27,435.94 335.98,435.66 336.68,435.39 337.38,435.12 338.08,434.86 338.78,434.59 339.48,434.33 340.19,434.06 340.89,433.79 341.59,433.53 342.29,433.26 342.99,432.99 343.69,432.71 344.40,432.44 345.10,432.16 345.80,431.89 346.50,431.61 347.20,431.33 347.90,431.05 348.61,430.78 349.31,430.50 350.01,430.22 350.71,429.95 351.41,429.68 352.11,429.41 352.82,429.14 353.52,428.88 354.22,428.61 354.92,428.36 355.62,428.10 356.32,427.85 357.03,427.60 357.73,427.35 358.43,427.11 359.13,426.87 359.83,426.63 360.53,426.39 361.24,426.15 361.94,425.92 362.64,425.69 363.34,425.46 364.04,425.23 364.74,425.01 365.45,424.79 366.15,424.57 366.85,424.35 367.55,424.13 368.25,423.92 368.95,423.71 369.66,423.50 370.36,423.29 371.06,423.08 371.76,422.88 372.46,422.68 373.16,422.48 373.87,422.28 374.57,422.08 375.27,421.89 375.97,421.70 376.67,421.50 377.37,421.32 378.08,421.13 378.78,420.94 379.48,420.75 380.18,420.57 380.88,420.39 381.58,420.20 382.29,420.02 382.99,419.84 383.69,419.65 384.39,419.47 385.09,419.29 385.79,419.11 386.50,418.92 387.20,418.74 387.90,418.56 388.60,418.37 389.30,418.19 390.00,418.00 390.71,417.81 391.41,417.63 392.11,417.44 392.81,417.25 393.51,417.06 394.21,416.86 394.92,416.67 395.62,416.48 396.32,416.28 397.02,416.09 397.72,415.89 398.42,415.70 399.13,415.50 399.83,415.30 400.53,415.10 401.23,414.90 401.93,414.70 402.63,414.50 403.34,414.30 404.04,414.10 404.74,413.90 405.44,413.69 406.14,413.49 406.84,413.29 407.55,413.08 408.25,412.88 408.95,412.67 409.65,412.47 410.35,412.26 411.05,412.06 411.76,411.85 412.46,411.64 413.16,411.44 413.86,411.23 414.56,411.02 415.26,410.81 415.97,410.61 416.67,410.40 417.37,410.19 418.07,409.98 418.77,409.78 419.47,409.57 420.18,409.36 420.88,409.15 421.58,408.94 422.28,408.73 422.98,408.53 423.68,408.32 424.39,408.11 425.09,407.90 425.79,407.69 426.49,407.48 427.19,407.28 427.89,407.07 428.60,406.86 429.30,406.65 430.00,406.44 430.70,406.23 431.40,406.02 432.10,405.81 432.81,405.60 433.51,405.39 434.21,405.18 434.91,404.97 435.61,404.76 436.31,404.55 437.02,404.34 437.72,404.12 438.42,403.91 439.12,403.70 439.82,403.49 440.52,403.28 441.23,403.06 441.93,402.85 442.63,402.64 443.33,402.42 444.03,402.21 444.73,401.99 445.44,401.78 446.14,401.56 446.84,401.35 447.54,401.13 448.24,400.91 448.94,400.70 449.65,400.48 450.35,400.26 451.05,400.05 451.75,399.83 452.45,399.61 453.15,399.40 453.86,399.18 454.56,398.97 455.26,398.75 455.96,398.54 456.66,398.33 457.36,398.12 458.07,397.92 458.77,397.71 459.47,397.51 460.17,397.31 460.87,397.11 461.57,396.92 462.28,396.73 462.98,396.54 463.68,396.35 464.38,396.17 465.08,396.00 465.78,395.82 466.49,395.65 467.19,395.49 467.89,395.32 468.59,395.17 469.29,395.01 469.99,394.86 470.70,394.72 471.40,394.57 472.10,394.44 472.80,394.30 473.50,394.18 474.20,394.05 474.91,393.93 475.61,393.82 476.31,393.71 477.01,393.60 477.71,393.50 478.41,393.41 479.12,393.31 479.82,393.23 480.52,393.15 481.22,393.07 481.92,393.00 482.62,392.93 483.33,392.86 484.03,392.80 484.73,392.74 485.43,392.69 486.13,392.64 486.83,392.59 487.54,392.55 488.24,392.51 488.94,392.47 489.64,392.44 490.34,392.41 491.04,392.38 491.75,392.35 492.45,392.33 493.15,392.31 493.85,392.29 494.55,392.27 495.25,392.25 495.96,392.24 496.66,392.23 497.36,392.22 498.06,392.21 498.76,392.20 499.46,392.20 500.17,392.19 500.87,392.19 501.57,392.19 502.27,392.19 502.97,392.19 503.67,392.19 504.38,392.19 505.08,392.20 505.78,392.20 506.48,392.21 507.18,392.21 507.88,392.22 508.59,392.23 509.29,392.24 509.99,392.25 510.69,392.26 511.39,392.26 512.09,392.27 512.80,392.28 513.50,392.29 514.20,392.31" stroke="#45e0d0" stroke-width="1.6" stroke-dasharray="4.7,1.9"/>
</g>
<text x="304.50" y="272.20" font-family="'DejaVu Sans', 'Liberation Sans', sans-serif" font-size="10.2" fill="#222222">×10<tspan font-size="7.2" dy="-3.9">−2</tspan></text>
<rect x="316.10" y="277.20" width="186" height="26.6" rx="1.5" fill="#ffffff" fill-opacity="0.8" stroke="#ececec" stroke-width="0.8"/>
<line x1="319.20" y1="284.40" x2="338.20" y2="284.40" stroke="#111111" stroke-width="1.6"/>
<text x="345.50" y="288.00" font-family="'DejaVu Sans', 'Liberation Sans', sans-serif" font-size="9.05" fill="#222222">N</text>
<line x1="319.20" y1="297.30" x2="338.20" y2="297.30" stroke="#2e2eb4" stroke-width="1.6" stroke-dasharray="5.1,1.7"/>
<text x="345.50" y="300.90" font-family="'DejaVu Sans', 'Liberation Sans', sans-serif" font-size="9.05" fill="#222222">VE : De = 1</text>
<line x1="415.00" y1="284.40" x2="434.00" y2="284.40" stroke="#d42a36" stroke-width="1.6" stroke-dasharray="5.1,1.7"/>
<text x="440.70" y="288.00" font-family="'DejaVu Sans', 'Liberation Sans', sans-serif" font-size="9.05" fill="#222222">VE : De = 5</text>
<line x1="415.00" y1="297.30" x2="434.00" y2="297.30" stroke="#45e0d0" stroke-width="1.6" stroke-dasharray="5.1,1.7"/>
<text x="440.70" y="300.90" font-family="'DejaVu Sans', 'Liberation Sans', sans-serif" font-size="9.05" fill="#222222">VE : De = 10</text>
<text class="ax" x="409.30" y="474.60" text-anchor="middle" font-family="'DejaVu Sans', 'Liberation Sans', sans-serif" font-size="11.9" fill="#222222">t [s]</text>
<g transform="translate(289.80,361.60) rotate(-90)" font-family="'DejaVu Sans', 'Liberation Sans', sans-serif" fill="#222222"><text x="-23.6" y="0" font-size="12.8" font-style="italic">U</text><text x="-14.0" y="1.5" font-size="8.2" font-style="italic">cl,</text><text x="-3.6" y="1.7" font-size="8.2" font-style="italic">A</text><text x="4.4" y="0.9" font-size="12.2">[</text><text x="13.3" y="-5.3" font-size="8.4" font-style="italic" text-anchor="middle">m</text><line x1="9.4" y1="-3.2" x2="17.2" y2="-3.2" stroke="#222222" stroke-width="0.7"/><text x="13.4" y="2.7" font-size="8.2" font-style="italic" text-anchor="middle">s</text><text x="19.4" y="0.9" font-size="12.2">]</text></g>
<rect x="33.5" y="533.5" width="210.00" height="169.50" fill="none" stroke="#d6d6d6" stroke-width="1.3"/>
<path d="M33.50,703.00v2.8M33.50,533.50v-2.8M68.50,703.00v2.8M68.50,533.50v-2.8M103.50,703.00v2.8M103.50,533.50v-2.8M138.50,703.00v2.8M138.50,533.50v-2.8M173.50,703.00v2.8M173.50,533.50v-2.8M208.50,703.00v2.8M208.50,533.50v-2.8M243.50,703.00v2.8M243.50,533.50v-2.8M33.50,703.00h-2.8M243.50,703.00h2.8M33.50,660.62h-2.8M243.50,660.62h2.8M33.50,618.25h-2.8M243.50,618.25h2.8M33.50,575.88h-2.8M243.50,575.88h2.8M33.50,533.50h-2.8M243.50,533.50h2.8" stroke="#858585" stroke-width="0.9" fill="none"/>
<g font-family="'DejaVu Sans', 'Liberation Sans', sans-serif" font-size="9.6" fill="#222222">
<text x="33.50" y="714.30" text-anchor="middle">0</text>
<text x="68.50" y="714.30" text-anchor="middle">2</text>
<text x="103.50" y="714.30" text-anchor="middle">4</text>
<text x="138.50" y="714.30" text-anchor="middle">6</text>
<text x="173.50" y="714.30" text-anchor="middle">8</text>
<text x="208.50" y="714.30" text-anchor="middle">10</text>
<text x="243.50" y="714.30" text-anchor="middle">12</text>
<text x="30.60" y="707.20" text-anchor="end">0.0</text>
<text x="30.60" y="664.83" text-anchor="end">0.5</text>
<text x="30.60" y="622.45" text-anchor="end">1.0</text>
<text x="30.60" y="580.08" text-anchor="end">1.5</text>
<text x="30.60" y="537.70" text-anchor="end">2.0</text>
</g>
<g clip-path="url(#cpe)" fill="none">
<polyline points="33.50,606.38 51.00,595.62 121.00,621.64 208.50,639.01" stroke="#8c8c8c" stroke-width="0.9"/>
<polyline points="33.50,676.47 51.00,676.47 121.00,696.47 208.50,702.58" stroke="#8080e6" stroke-width="0.9"/>
<polyline points="33.50,632.91 51.00,624.18 121.00,656.73 208.50,673.59" stroke="#6aa86a" stroke-width="0.9"/>
<polyline points="33.50,703.00 51.00,701.14 121.00,703.00 208.50,703.00" stroke="#70e4dc" stroke-width="0.9"/>
<circle cx="33.50" cy="606.38" r="3.3" fill="#000000"/>
<circle cx="51.00" cy="595.62" r="3.3" fill="#000000"/>
<circle cx="121.00" cy="621.64" r="3.3" fill="#000000"/>
<circle cx="208.50" cy="639.01" r="3.3" fill="#000000"/>
<circle cx="33.50" cy="676.47" r="3.3" fill="#0000e0"/>
<circle cx="51.00" cy="676.47" r="3.3" fill="#0000e0"/>
<circle cx="121.00" cy="696.47" r="3.3" fill="#0000e0"/>
<circle cx="208.50" cy="702.58" r="3.3" fill="#0000e0"/>
<polygon points="33.50,629.31 34.45,631.60 36.92,631.80 35.04,633.41 35.62,635.82 33.50,634.53 31.38,635.82 31.96,633.41 30.08,631.80 32.55,631.60" fill="#0f5a1f"/>
<polygon points="51.00,620.58 51.95,622.87 54.42,623.07 52.54,624.68 53.12,627.09 51.00,625.80 48.88,627.09 49.46,624.68 47.58,623.07 50.05,622.87" fill="#0f5a1f"/>
<polygon points="121.00,653.13 121.95,655.42 124.42,655.61 122.54,657.23 123.12,659.64 121.00,658.35 118.88,659.64 119.46,657.23 117.58,655.61 120.05,655.42" fill="#0f5a1f"/>
<polygon points="208.50,669.99 209.45,672.28 211.92,672.48 210.04,674.09 210.62,676.50 208.50,675.21 206.38,676.50 206.96,674.09 205.08,672.48 207.55,672.28" fill="#0f5a1f"/>
<polygon points="33.50,699.40 34.45,701.69 36.92,701.89 35.04,703.50 35.62,705.91 33.50,704.62 31.38,705.91 31.96,703.50 30.08,701.89 32.55,701.69" fill="#35dcd4"/>
<polygon points="51.00,697.54 51.95,699.82 54.42,700.02 52.54,701.64 53.12,704.05 51.00,702.76 48.88,704.05 49.46,701.64 47.58,700.02 50.05,699.82" fill="#35dcd4"/>
<polygon points="121.00,699.40 121.95,701.69 124.42,701.89 122.54,703.50 123.12,705.91 121.00,704.62 118.88,705.91 119.46,703.50 117.58,701.89 120.05,701.69" fill="#35dcd4"/>
<polygon points="208.50,699.40 209.45,701.69 211.92,701.89 210.04,703.50 210.62,705.91 208.50,704.62 206.38,705.91 206.96,703.50 205.08,701.89 207.55,701.69" fill="#35dcd4"/>
</g>
<rect x="104.30" y="537.20" width="135.80" height="59.2" rx="1.5" fill="#ffffff" fill-opacity="0.8" stroke="#ececec" stroke-width="0.8"/>
<line x1="108.40" y1="545.50" x2="126.40" y2="545.50" stroke="#8c8c8c" stroke-width="0.9"/>
<circle cx="117.50" cy="545.50" r="2.9" fill="#000000"/>
<text x="135.40" y="548.80" font-family="'DejaVu Sans', 'Liberation Sans', sans-serif" font-size="9.3" fill="#222222">Ca = 0.25, Δ<tspan font-style="italic">θ</tspan> = 100<tspan font-size="7" dy="-3.6">∘</tspan></text>
<line x1="108.40" y1="560.00" x2="126.40" y2="560.00" stroke="#8080e6" stroke-width="0.9"/>
<circle cx="117.50" cy="560.00" r="2.9" fill="#0000e0"/>
<text x="135.40" y="563.30" font-family="'DejaVu Sans', 'Liberation Sans', sans-serif" font-size="9.3" fill="#222222">Ca = 0.2, Δ<tspan font-style="italic">θ</tspan> = 100<tspan font-size="7" dy="-3.6">∘</tspan></text>
<line x1="108.40" y1="574.50" x2="126.40" y2="574.50" stroke="#6aa86a" stroke-width="0.9"/>
<polygon points="117.50,571.50 118.29,573.41 120.35,573.57 118.78,574.92 119.26,576.93 117.50,575.85 115.74,576.93 116.22,574.92 114.65,573.57 116.71,573.41" fill="#0f5a1f"/>
<text x="135.40" y="577.80" font-family="'DejaVu Sans', 'Liberation Sans', sans-serif" font-size="9.3" fill="#222222">Ca = 0.25, Δ<tspan font-style="italic">θ</tspan> = 140<tspan font-size="7" dy="-3.6">∘</tspan></text>
<line x1="108.40" y1="589.00" x2="126.40" y2="589.00" stroke="#70e4dc" stroke-width="0.9"/>
<polygon points="117.50,586.00 118.29,587.91 120.35,588.07 118.78,589.42 119.26,591.43 117.50,590.35 115.74,591.43 116.22,589.42 114.65,588.07 116.71,587.91" fill="#35dcd4"/>
<text x="135.40" y="592.30" font-family="'DejaVu Sans', 'Liberation Sans', sans-serif" font-size="9.3" fill="#222222">Ca = 0.2, Δ<tspan font-style="italic">θ</tspan> = 140<tspan font-size="7" dy="-3.6">∘</tspan></text>
<text x="138.50" y="725.00" text-anchor="middle" font-family="'DejaVu Sans', 'Liberation Sans', sans-serif" font-size="10.9" fill="#222222">De</text>
<g transform="translate(9.80,619.05) rotate(-90)" font-family="'DejaVu Sans', 'Liberation Sans', sans-serif" fill="#222222"><text x="-11.6" y="-0.3" font-size="9.8">U</text><line x1="-11.3" y1="-9.8" x2="-1.0" y2="-9.8" stroke="#222222" stroke-width="0.8"/><text x="-3.3" y="-4.3" font-size="7">*</text><text x="-3.0" y="2.6" font-size="7.2" font-style="italic">cl,</text><text x="6.5" y="2.2" font-size="7.2" font-style="italic">R</text></g>
<rect x="304.4" y="533.6" width="209.90" height="169.50" fill="none" stroke="#d6d6d6" stroke-width="1.3"/>
<path d="M304.40,703.10v2.8M304.40,533.60v-2.8M339.38,703.10v2.8M339.38,533.60v-2.8M374.37,703.10v2.8M374.37,533.60v-2.8M409.35,703.10v2.8M409.35,533.60v-2.8M444.33,703.10v2.8M444.33,533.60v-2.8M479.32,703.10v2.8M479.32,533.60v-2.8M514.30,703.10v2.8M514.30,533.60v-2.8M304.40,703.10h-2.8M514.30,703.10h2.8M304.40,660.73h-2.8M514.30,660.73h2.8M304.40,618.35h-2.8M514.30,618.35h2.8M304.40,575.98h-2.8M514.30,575.98h2.8M304.40,533.60h-2.8M514.30,533.60h2.8" stroke="#858585" stroke-width="0.9" fill="none"/>
<g font-family="'DejaVu Sans', 'Liberation Sans', sans-serif" font-size="9.6" fill="#222222">
<text x="304.40" y="714.40" text-anchor="middle">0</text>
<text x="339.38" y="714.40" text-anchor="middle">2</text>
<text x="374.37" y="714.40" text-anchor="middle">4</text>
<text x="409.35" y="714.40" text-anchor="middle">6</text>
<text x="444.33" y="714.40" text-anchor="middle">8</text>
<text x="479.32" y="714.40" text-anchor="middle">10</text>
<text x="514.30" y="714.40" text-anchor="middle">12</text>
<text x="301.50" y="707.30" text-anchor="end">0.0</text>
<text x="301.50" y="664.93" text-anchor="end">0.5</text>
<text x="301.50" y="622.55" text-anchor="end">1.0</text>
<text x="301.50" y="580.18" text-anchor="end">1.5</text>
<text x="301.50" y="537.80" text-anchor="end">2.0</text>
</g>
<g clip-path="url(#cpf)" fill="none">
<polyline points="304.40,627.08 321.89,622.59 391.86,653.52 479.32,666.06" stroke="#8c8c8c" stroke-width="0.9"/>
<polyline points="304.40,673.69 321.89,682.68 391.86,703.10 479.32,703.10" stroke="#8080e6" stroke-width="0.9"/>
<polyline points="304.40,703.10 321.89,703.10 391.86,703.10 479.32,703.10" stroke="#6aa86a" stroke-width="0.9"/>
<polyline points="304.40,703.10 321.89,703.10 391.86,703.10 479.32,703.10" stroke="#70e4dc" stroke-width="0.9"/>
<circle cx="304.40" cy="627.08" r="3.3" fill="#000000"/>
<circle cx="321.89" cy="622.59" r="3.3" fill="#000000"/>
<circle cx="391.86" cy="653.52" r="3.3" fill="#000000"/>
<circle cx="479.32" cy="666.06" r="3.3" fill="#000000"/>
<circle cx="304.40" cy="673.69" r="3.3" fill="#0000e0"/>
<circle cx="321.89" cy="682.68" r="3.3" fill="#0000e0"/>
<circle cx="391.86" cy="703.10" r="3.3" fill="#0000e0"/>
<circle cx="479.32" cy="703.10" r="3.3" fill="#0000e0"/>
<polygon points="304.40,699.50 305.35,701.79 307.82,701.99 305.94,703.60 306.52,706.01 304.40,704.72 302.28,706.01 302.86,703.60 300.98,701.99 303.45,701.79" fill="#0f5a1f"/>
<polygon points="321.89,699.50 322.84,701.79 325.32,701.99 323.43,703.60 324.01,706.01 321.89,704.72 319.78,706.01 320.35,703.60 318.47,701.99 320.94,701.79" fill="#0f5a1f"/>
<polygon points="391.86,699.50 392.81,701.79 395.28,701.99 393.40,703.60 393.97,706.01 391.86,704.72 389.74,706.01 390.32,703.60 388.43,701.99 390.91,701.79" fill="#0f5a1f"/>
<polygon points="479.32,699.50 480.27,701.79 482.74,701.99 480.86,703.60 481.43,706.01 479.32,704.72 477.20,706.01 477.78,703.60 475.89,701.99 478.36,701.79" fill="#0f5a1f"/>
<polygon points="304.40,699.50 305.35,701.79 307.82,701.99 305.94,703.60 306.52,706.01 304.40,704.72 302.28,706.01 302.86,703.60 300.98,701.99 303.45,701.79" fill="#35dcd4"/>
<polygon points="321.89,699.50 322.84,701.79 325.32,701.99 323.43,703.60 324.01,706.01 321.89,704.72 319.78,706.01 320.35,703.60 318.47,701.99 320.94,701.79" fill="#35dcd4"/>
<polygon points="391.86,699.50 392.81,701.79 395.28,701.99 393.40,703.60 393.97,706.01 391.86,704.72 389.74,706.01 390.32,703.60 388.43,701.99 390.91,701.79" fill="#35dcd4"/>
<polygon points="479.32,699.50 480.27,701.79 482.74,701.99 480.86,703.60 481.43,706.01 479.32,704.72 477.20,706.01 477.78,703.60 475.89,701.99 478.36,701.79" fill="#35dcd4"/>
</g>
<rect x="375.20" y="537.30" width="135.80" height="59.2" rx="1.5" fill="#ffffff" fill-opacity="0.8" stroke="#ececec" stroke-width="0.8"/>
<line x1="379.30" y1="545.60" x2="397.30" y2="545.60" stroke="#8c8c8c" stroke-width="0.9"/>
<circle cx="388.40" cy="545.60" r="2.9" fill="#000000"/>
<text x="406.30" y="548.90" font-family="'DejaVu Sans', 'Liberation Sans', sans-serif" font-size="9.3" fill="#222222">Ca = 0.25, Δ<tspan font-style="italic">θ</tspan> = 100<tspan font-size="7" dy="-3.6">∘</tspan></text>
<line x1="379.30" y1="560.10" x2="397.30" y2="560.10" stroke="#8080e6" stroke-width="0.9"/>
<circle cx="388.40" cy="560.10" r="2.9" fill="#0000e0"/>
<text x="406.30" y="563.40" font-family="'DejaVu Sans', 'Liberation Sans', sans-serif" font-size="9.3" fill="#222222">Ca = 0.2, Δ<tspan font-style="italic">θ</tspan> = 100<tspan font-size="7" dy="-3.6">∘</tspan></text>
<line x1="379.30" y1="574.60" x2="397.30" y2="574.60" stroke="#6aa86a" stroke-width="0.9"/>
<polygon points="388.40,571.60 389.19,573.51 391.25,573.67 389.68,575.02 390.16,577.03 388.40,575.95 386.64,577.03 387.12,575.02 385.55,573.67 387.61,573.51" fill="#0f5a1f"/>
<text x="406.30" y="577.90" font-family="'DejaVu Sans', 'Liberation Sans', sans-serif" font-size="9.3" fill="#222222">Ca = 0.25, Δ<tspan font-style="italic">θ</tspan> = 140<tspan font-size="7" dy="-3.6">∘</tspan></text>
<line x1="379.30" y1="589.10" x2="397.30" y2="589.10" stroke="#70e4dc" stroke-width="0.9"/>
<polygon points="388.40,586.10 389.19,588.01 391.25,588.17 389.68,589.52 390.16,591.53 388.40,590.45 386.64,591.53 387.12,589.52 385.55,588.17 387.61,588.01" fill="#35dcd4"/>
<text x="406.30" y="592.40" font-family="'DejaVu Sans', 'Liberation Sans', sans-serif" font-size="9.3" fill="#222222">Ca = 0.2, Δ<tspan font-style="italic">θ</tspan> = 140<tspan font-size="7" dy="-3.6">∘</tspan></text>
<text x="409.35" y="725.10" text-anchor="middle" font-family="'DejaVu Sans', 'Liberation Sans', sans-serif" font-size="10.9" fill="#222222">De</text>
<g transform="translate(280.70,619.15) rotate(-90)" font-family="'DejaVu Sans', 'Liberation Sans', sans-serif" fill="#222222"><text x="-11.6" y="-0.3" font-size="9.8">U</text><line x1="-11.3" y1="-9.8" x2="-1.0" y2="-9.8" stroke="#222222" stroke-width="0.8"/><text x="-3.3" y="-4.3" font-size="7">*</text><text x="-3.0" y="2.6" font-size="7.2" font-style="italic">cl,</text><text x="6.5" y="2.2" font-size="7.2" font-style="italic">A</text></g>
<text class="cap" x="132.3" y="236.8" text-anchor="middle" font-family="'Liberation Serif', 'DejaVu Serif', serif" fill="#222222" font-size="16.6">(<tspan font-size="15.2">a</tspan>)</text>
<text class="cap" x="403.3" y="236.8" text-anchor="middle" font-family="'Liberation Serif', 'DejaVu Serif', serif" fill="#222222" font-size="16.6">(<tspan font-size="15.2">b</tspan>)</text>
<text class="cap" x="132.3" y="499.5" text-anchor="middle" font-family="'Liberation Serif', 'DejaVu Serif', serif" fill="#222222" font-size="16.6">(<tspan font-size="15.2">c</tspan>)</text>
<text class="cap" x="403.3" y="499.5" text-anchor="middle" font-family="'Liberation Serif', 'DejaVu Serif', serif" fill="#222222" font-size="16.6">(<tspan font-size="15.2">d</tspan>)</text>
<text class="cap" x="132.3" y="751.6" text-anchor="middle" font-family="'Liberation Serif', 'DejaVu Serif', serif" fill="#222222" font-size="16.6">(<tspan font-size="15.2">e</tspan>)</text>
<text class="cap" x="403.3" y="751.6" text-anchor="middle" font-family="'Liberation Serif', 'DejaVu Serif', serif" fill="#222222" font-size="16.6">(<tspan font-size="15.2">f</tspan>)</text>
</svg>
</body></html>
